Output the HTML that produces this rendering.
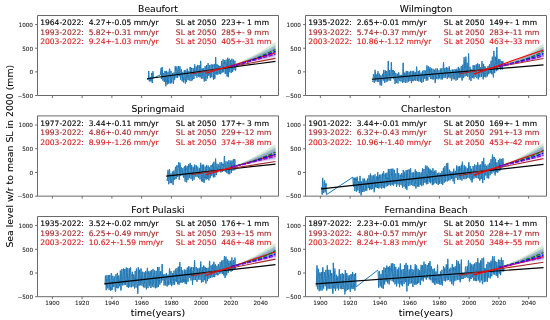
<!DOCTYPE html>
<html lang="en"><head><meta charset="utf-8"><title>Sea level trends and projections</title>
<style>html,body{margin:0;padding:0;background:#fff;overflow:hidden}body{width:550px;height:320px}svg{display:block}</style></head>
<body>
<svg width="550" height="320" viewBox="0 0 550 320" font-family="'DejaVu Sans','Liberation Sans',sans-serif">
<rect width="550" height="320" fill="#fff"/>
<g id="c00">
<clipPath id="kc00"><rect x="37.5" y="15.5" width="241" height="80"/></clipPath>
<g clip-path="url(#kc00)">
<path d="M147.64 79.08L147.76 80.04L147.88 79.83L148.01 79.58L148.13 79.6L148.26 79.15L148.38 77.87L148.5 74.41L148.63 72.27L148.75 70.94L148.88 72.27L149 74.41L149.12 80.36L149.25 81.26L149.37 81.5L149.5 81.23L149.62 80.21L149.74 79.83L149.87 77.82L149.99 77.87L150.12 77.93L150.24 77.19L150.36 77.26L150.49 78.47L150.61 79.73L150.74 81.28L150.86 79.15L150.98 80.08L151.11 80.44L151.23 78.59L151.36 75.7L151.48 75.27L151.6 72.93L151.73 73.82L151.85 73.77L151.98 76.32L152.1 82.2L152.22 81.1L152.35 82.95L152.47 80.07L152.6 79.43L152.72 72.33L152.84 71.63L152.97 71.19L153.09 71.63L153.22 72.33L153.36 78.09L160.36 74.91L161.12 67.82L161.25 68.53L161.37 79.09L161.5 77.39L161.62 76.54L161.74 74.5L161.87 72.72L161.99 69.73L162.12 68.12L162.24 67.12L162.36 68.12L162.49 69.73L162.61 78.26L162.74 80.28L162.86 80.63L162.98 79.69L163.11 76.58L163.23 74.05L163.36 73.52L163.48 73.02L163.6 73.82L163.73 74.09L163.85 78.28L163.98 78.02L164.1 79.81L164.22 81.93L164.35 78.24L164.47 80.46L164.6 78.33L164.72 75.77L164.84 71.26L164.97 72.16L165.09 71.19L165.22 73.05L165.34 76.16L165.46 80.07L165.59 84.14L165.71 85.45L165.84 86.26L165.96 85.45L166.08 84.14L166.21 74.17L166.33 72.51L166.46 70.84L166.58 73.25L166.7 72.81L166.83 76.18L166.95 81.86L167.07 80.43L167.2 80.7L167.32 84.39L167.45 81.29L167.57 76.52L167.69 76.56L167.82 74.23L167.94 72.02L168.07 71.73L168.19 74.11L168.31 76.07L168.44 79.51L168.56 83.51L168.69 82.31L168.81 80.27L168.93 79.2L169.06 76.79L169.18 75.28L169.31 70.05L169.43 69.19L169.55 68.65L169.68 69.19L169.8 70.05L169.93 79.38L170.05 83.7L170.17 83.52L170.3 81.8L170.42 82.5L170.55 78.78L170.67 75.81L170.79 74.22L170.92 70.93L171.04 71.05L171.17 73.23L171.29 76.62L171.41 79.66L171.54 81.4L171.66 83.21L171.79 81.12L171.91 79.31L172.03 77.09L172.16 76.58L172.28 74.76L172.41 74.45L172.53 73L172.65 75.25L172.78 78.36L172.9 78.32L173.03 78.61L173.15 82.13L173.27 83.11L173.4 83.72L173.52 83.11L173.65 82.13L173.77 74.33L173.89 72.63L174.02 72.37L174.14 72.98L174.27 75.33L174.39 76.4L174.51 79.29L174.64 80.1L174.76 78.59L174.89 78.41L175.01 67.92L175.13 66.8L175.26 66.1L175.38 66.8L175.51 67.92L175.63 71.77L175.75 74.61L175.88 76.58L176 77.1L176.12 77.86L176.25 75.68L176.37 75.15L176.5 75.04L176.62 71.7L176.74 67.89L176.87 66.48L176.99 67.34L177.12 68.98L177.24 69.74L177.36 73.95L177.49 75.88L177.61 77.9L177.74 76.57L177.86 72.17L177.98 74.17L178.11 69.83L178.23 69.19L178.36 66.4L178.48 66L178.6 69.16L178.73 70.81L178.85 73.59L178.98 76.07L179.1 75.61L179.22 76.3L179.35 75.85L179.47 73.73L179.6 71.2L179.72 67.58L179.84 67.65L179.97 66.23L180.09 67.77L180.22 72.81L180.34 75.36L180.46 74.98L180.59 79.72L180.71 77.91L180.84 75.22L180.96 75.36L181.08 72.7L181.21 70.85L181.33 69.18L181.46 70.33L181.58 71.8L181.7 74.04L181.83 77.22L181.95 78.26L182.08 81.04L182.2 81.37L182.32 80.38L182.45 78.18L182.57 75.05L182.7 71.88L182.82 71.75L182.94 72.78L183.07 74.73L183.19 76.51L183.32 78.89L183.44 81.08L183.56 82.43L183.69 81.65L183.81 78.48L183.94 79.33L184.06 74.23L184.18 73.71L184.31 70.08L184.43 71.45L184.55 75.01L184.68 75.66L184.8 76.12L184.93 79.62L185.05 79.17L185.17 82.74L185.3 83.34L185.42 83.72L185.55 83.34L185.67 82.74L185.79 70.31L185.92 71.12L186.04 73.43L186.17 74.28L186.29 78.82L186.41 79.44L186.54 81.81L186.66 80.11L186.79 79.98L186.91 74.28L187.03 72.45L187.16 68.58L187.28 69.79L187.41 69.8L187.53 70.27L187.65 77.48L187.78 78.5L187.9 78.29L188.03 79.95L188.15 78.79L188.27 78.32L188.4 74.4L188.52 73.49L188.65 72.43L188.77 71.94L188.89 70.86L189.02 72.18L189.14 74.26L189.27 80.27L189.39 80.57L189.51 79.77L189.64 78.28L189.76 77.58L189.89 75.35L190.01 74.35L190.13 67.18L190.26 69.91L190.38 67.15L190.51 69.1L190.63 73.26L190.75 77.6L190.88 79.53L191 81.14L191.13 80.03L191.25 78.14L191.37 74.34L191.5 70.88L191.62 67.76L191.75 69.15L191.87 68.03L191.99 71.91L192.12 74.69L192.24 77.46L192.37 80.28L192.49 79.24L192.61 78.78L192.74 76.42L192.86 74.88L192.98 71.63L193.11 70.25L193.23 69.75L193.36 68.37L193.48 70.25L193.6 74.29L193.73 74.77L193.85 79L193.98 78.05L194.1 78.09L194.22 76.42L194.35 74.74L194.47 65.58L194.6 64.73L194.72 64.19L194.84 64.73L194.97 65.58L195.09 72.47L195.22 75.56L195.34 75.44L195.46 75.34L195.59 75.87L195.71 75.37L195.84 72.88L195.96 69.62L196.08 69.31L196.21 66.49L196.33 66.76L196.46 69.17L196.58 71.42L196.7 73.81L196.83 77.4L196.95 77.78L197.08 76.12L197.2 74.63L197.32 70L197.45 69.69L197.57 68.06L197.7 64.91L197.82 64.95L197.94 68.35L198.07 71.95L198.19 72.72L198.32 75.99L198.44 75.25L198.56 76.66L198.69 73.45L198.81 73.36L198.94 69.19L199.06 65.45L199.18 66.26L199.31 65.62L199.43 68.8L199.56 71.71L199.68 75.33L199.8 75.05L199.93 77.46L200.05 75.26L200.18 76.55L200.3 72.62L200.42 63.64L200.55 61.91L200.67 60.83L200.8 61.91L200.92 63.64L201.04 73.64L201.17 72.84L201.29 76.62L201.41 78.31L201.54 77.29L201.66 78.64L201.79 75.28L201.91 69.96L202.03 68.89L202.16 68.31L202.28 69.96L202.41 69.43L202.53 70.08L202.65 76.29L202.78 76.94L202.9 78.46L203.03 77.02L203.15 75.62L203.27 73.11L203.4 71.56L203.52 68.62L203.65 68.46L203.77 68.18L203.89 69.5L204.02 80.37L204.14 81.15L204.27 81.63L204.39 81.15L204.51 80.37L204.64 76.42L204.76 71.69L204.89 69.48L205.01 67.41L205.13 66.11L205.26 68.61L205.38 68.07L205.51 69.68L205.63 74.83L205.75 80.94L205.88 80.31L206 80.81L206.13 77.38L206.25 72.71L206.37 71.38L206.5 65.41L206.62 66.37L206.75 65.58L206.87 67.58L206.99 69.21L207.12 71.87L207.24 77.38L207.37 76.06L207.49 78.54L207.61 74.64L207.74 70.79L207.86 66.85L207.99 63.37L208.11 64L208.23 63.71L208.36 66.47L208.48 68.6L208.61 71.03L208.73 75.52L208.85 71.13L208.98 75.46L209.1 74.21L209.23 70.53L209.35 68.04L209.47 66.57L209.6 67.24L209.72 65L209.85 68.16L209.97 68.41L210.09 71.72L210.22 77.66L210.34 78.04L210.46 78.08L210.59 74.46L210.71 71.58L210.84 68.43L210.96 67.57L211.08 65.06L211.21 64.35L211.33 69.56L211.46 70.89L211.58 73.25L211.7 76.04L211.83 77.25L211.95 74.37L212.08 73.13L212.2 70.88L212.32 70.43L212.45 64.61L212.57 66.15L212.7 67.77L212.82 69.04L212.94 71.63L213.07 71.02L213.19 76.03L213.32 77.38L213.44 79.71L213.56 74.02L213.69 73.57L213.81 70.16L213.94 64.97L214.06 65.69L214.18 63.98L214.31 65.85L214.43 72.98L214.56 74.57L214.68 78.9L214.8 78.78L214.93 76.84L215.05 77.25L215.18 69.61L215.3 69.63L215.42 61.31L215.55 58.66L215.67 57.01L215.8 58.66L215.92 61.31L216.04 73.87L216.17 72.7L216.29 74.54L216.42 74.57L216.54 71.31L216.66 71.41L216.79 68.31L216.91 64.45L217.04 65.78L217.16 64.63L217.28 67.01L217.41 69.65L217.53 71.67L217.66 73.39L217.78 74.75L217.9 74.69L218.03 72.98L218.15 71.22L218.28 67.83L218.4 66.22L218.52 65.3L218.65 67.88L218.77 66.59L218.89 69L219.02 72.87L219.14 73.65L219.27 74.02L219.39 73.89L219.51 71.91L219.64 69.01L219.76 66.77L219.89 65.98L220.01 67.19L220.13 66.21L220.26 66.47L220.38 69.37L220.51 70.78L220.63 72.66L220.75 74.26L220.88 71.69L221 72.63L221.13 67.6L221.25 66.06L221.37 63.94L221.5 61.14L221.62 62.62L221.75 62.54L221.87 67.43L221.99 68.99L222.12 72.27L222.24 72.6L222.37 72.19L222.49 71.02L222.61 66.08L222.74 65.01L222.86 62.16L222.99 59.35L223.11 59.27L223.23 61.44L223.36 64.69L223.48 65.5L223.61 71.71L223.73 72.21L223.85 72.35L223.98 68.21L224.1 65.92L224.23 62.09L224.35 60.06L224.47 60.49L224.6 61.65L224.72 63.68L224.85 62.12L224.97 67.5L225.09 71.19L225.22 74.09L225.34 73.4L225.47 71.11L225.59 67.17L225.71 66.8L225.84 60.76L225.96 60.08L226.09 59.64L226.21 61.84L226.33 63.95L226.46 68.38L226.58 69.68L226.71 74.24L226.83 74.96L226.95 75.93L227.08 76.54L227.2 75.93L227.32 74.96L227.45 59.42L227.57 57.82L227.7 63.31L227.82 67.7L227.94 70.58L228.07 75.11L228.19 76.38L228.32 77.17L228.44 76.38L228.56 75.11L228.69 59.26L228.81 59.95L228.94 58.55L229.06 58.5L229.18 61.88L229.31 65.94L229.43 68.74L229.56 70.57L229.68 72.23L229.8 71.24L229.93 70.83L230.05 67.6L230.18 61.14L230.3 62.06L230.42 60.22L230.55 60.32L230.67 61.1L230.8 67.01L230.92 69.29L231.04 72.02L231.17 73L231.29 72.92L231.42 69.85L231.54 69.87L231.66 62.63L231.79 59.74L231.91 58.71L232.04 61.17L232.16 60.76L232.28 65.89L232.41 69.55L232.53 71.78L232.66 72.05L232.78 71.07L232.9 68.31L233.03 68.49L233.15 63.77L233.28 59.93L233.4 59.67L233.52 59.9L233.65 63.89L233.77 64.16L233.9 69.63L234.02 70.14L234.14 69.99L234.27 69.01L234.39 68.53L234.52 65.54L234.64 64.81L234.76 63.09L234.89 60.7L235.01 62.15L235.14 63.57L235.26 66.83L235.38 67.25L235.51 68.32L235.63 70.57L235.76 69.99L235.88 66.5" fill="none" stroke="#1f77b4" stroke-width="1.0" stroke-linejoin="round"/>
<polygon points="230.9,66.56 232.38,66.11 233.87,65.67 235.36,65.23 236.85,64.8 238.33,64.38 239.82,63.97 241.31,63.55 242.8,63.15 244.28,62.74 245.77,62.35 247.26,61.95 248.75,61.56 250.23,61.17 251.72,60.78 253.21,60.39 254.7,60 256.19,59.62 257.67,59.23 259.16,58.84 260.65,58.45 262.14,58.06 263.62,57.66 265.11,57.27 266.6,56.86 268.09,56.46 269.57,56.05 271.06,55.63 272.55,55.21 274.04,54.78 275.52,54.35 275.52,41.98 274.04,42.99 272.55,43.98 271.06,44.96 269.57,45.92 268.09,46.86 266.6,47.79 265.11,48.7 263.62,49.59 262.14,50.47 260.65,51.34 259.16,52.19 257.67,53.03 256.19,53.85 254.7,54.67 253.21,55.46 251.72,56.25 250.23,57.03 248.75,57.79 247.26,58.54 245.77,59.28 244.28,60.01 242.8,60.73 241.31,61.45 239.82,62.15 238.33,62.84 236.85,63.52 235.36,64.2 233.87,64.87 232.38,65.53 230.9,66.19" fill="#2e8b2e" fill-opacity="0.2"/>
<polygon points="230.9,66.61 232.38,66.19 233.87,65.77 235.36,65.36 236.85,64.96 238.33,64.57 239.82,64.19 241.31,63.82 242.8,63.45 244.28,63.09 245.77,62.73 247.26,62.38 248.75,62.03 250.23,61.69 251.72,61.34 253.21,61.01 254.7,60.67 256.19,60.34 257.67,60 259.16,59.67 260.65,59.34 262.14,59.01 263.62,58.67 265.11,58.34 266.6,58 268.09,57.66 269.57,57.31 271.06,56.97 272.55,56.61 274.04,56.26 275.52,55.89 275.52,45.07 274.04,45.94 272.55,46.79 271.06,47.63 269.57,48.45 268.09,49.26 266.6,50.06 265.11,50.84 263.62,51.61 262.14,52.37 260.65,53.12 259.16,53.85 257.67,54.58 256.19,55.29 254.7,56 253.21,56.7 251.72,57.38 250.23,58.06 248.75,58.73 247.26,59.39 245.77,60.05 244.28,60.7 242.8,61.34 241.31,61.97 239.82,62.6 238.33,63.23 236.85,63.84 235.36,64.46 233.87,65.07 232.38,65.68 230.9,66.28" fill="#2a6fb8" fill-opacity="0.32"/>
<polygon points="230.9,66.66 232.38,66.26 233.87,65.87 235.36,65.49 236.85,65.12 238.33,64.77 239.82,64.42 241.31,64.08 242.8,63.75 244.28,63.43 245.77,63.11 247.26,62.8 248.75,62.5 250.23,62.2 251.72,61.91 253.21,61.62 254.7,61.34 256.19,61.06 257.67,60.78 259.16,60.5 260.65,60.23 262.14,59.95 263.62,59.68 265.11,59.41 266.6,59.13 268.09,58.86 269.57,58.58 271.06,58.3 272.55,58.02 274.04,57.73 275.52,57.44 275.52,47.23 274.04,48 272.55,48.75 271.06,49.49 269.57,50.22 268.09,50.94 266.6,51.64 265.11,52.34 263.62,53.02 262.14,53.7 260.65,54.36 259.16,55.02 257.67,55.66 256.19,56.3 254.7,56.93 253.21,57.56 251.72,58.18 250.23,58.79 248.75,59.39 247.26,59.99 245.77,60.58 244.28,61.17 242.8,61.76 241.31,62.34 239.82,62.92 238.33,63.5 236.85,64.07 235.36,64.64 233.87,65.21 232.38,65.78 230.9,66.35" fill="#8a2be2" fill-opacity="0.2"/>
<line x1="146.99" y1="78.76" x2="275.52" y2="61.32" stroke="#000" stroke-width="1.2"/>
<line x1="190.73" y1="74.07" x2="275.52" y2="58.38" stroke="#a52a2a" stroke-width="1.1"/>
<line x1="205.6" y1="73.24" x2="275.52" y2="52.71" stroke="#f00" stroke-width="1.2"/>
<polyline points="230.9,66.42 232.38,66.09 233.87,65.73 235.36,65.35 236.85,64.94 238.33,64.52 239.82,64.08 241.31,63.61 242.8,63.13 244.28,62.63 245.77,62.12 247.26,61.59 248.75,61.04 250.23,60.48 251.72,59.91 253.21,59.32 254.7,58.72 256.19,58.11 257.67,57.48 259.16,56.85 260.65,56.21 262.14,55.56 263.62,54.9 265.11,54.24 266.6,53.56 268.09,52.89 269.57,52.21 271.06,51.52 272.55,50.83 274.04,50.14 275.52,49.45" fill="none" stroke="#008000" stroke-width="1.2" stroke-dasharray="4.1 1.5"/>
<polyline points="230.9,66.42 232.38,66.07 233.87,65.7 235.36,65.32 236.85,64.93 238.33,64.52 239.82,64.1 241.31,63.67 242.8,63.23 244.28,62.77 245.77,62.31 247.26,61.83 248.75,61.35 250.23,60.85 251.72,60.35 253.21,59.83 254.7,59.31 256.19,58.78 257.67,58.24 259.16,57.7 260.65,57.15 262.14,56.59 263.62,56.03 265.11,55.46 266.6,54.89 268.09,54.31 269.57,53.73 271.06,53.15 272.55,52.56 274.04,51.97 275.52,51.38" fill="none" stroke="#0000ff" stroke-width="1.2" stroke-dasharray="4.1 1.5"/>
<polyline points="230.9,66.42 232.38,66.05 233.87,65.67 235.36,65.29 236.85,64.91 238.33,64.53 239.82,64.14 241.31,63.75 242.8,63.36 244.28,62.96 245.77,62.57 247.26,62.17 248.75,61.77 250.23,61.36 251.72,60.95 253.21,60.54 254.7,60.13 256.19,59.71 257.67,59.29 259.16,58.87 260.65,58.45 262.14,58.02 263.62,57.59 265.11,57.16 266.6,56.72 268.09,56.28 269.57,55.84 271.06,55.39 272.55,54.94 274.04,54.49 275.52,54.04" fill="none" stroke="#9400d3" stroke-width="1.2" stroke-dasharray="4.1 1.5"/>
</g>
<text x="33" y="97.8" font-size="5.7" text-anchor="end" fill="#1a1a1a" stroke="#1a1a1a" stroke-width="0.08">−500</text>
<text x="33" y="74.16" font-size="5.7" text-anchor="end" fill="#1a1a1a" stroke="#1a1a1a" stroke-width="0.08">0</text>
<text x="33" y="50.52" font-size="5.7" text-anchor="end" fill="#1a1a1a" stroke="#1a1a1a" stroke-width="0.08">500</text>
<text x="33" y="26.88" font-size="5.7" text-anchor="end" fill="#1a1a1a" stroke="#1a1a1a" stroke-width="0.08">1000</text>
<path d="M37.5 15.5H278.5V95.5H37.5ZM35.1 95.5H37.5M35.1 71.86H37.5M35.1 48.22H37.5M35.1 24.58H37.5M52.38 95.5V97.9M82.13 95.5V97.9M111.88 95.5V97.9M141.64 95.5V97.9M171.39 95.5V97.9M201.14 95.5V97.9M230.9 95.5V97.9M260.65 95.5V97.9" stroke="#6a6a6a" stroke-width="1" fill="none"/>
<text x="158" y="11.9" font-size="9.25" text-anchor="middle" fill="#000" stroke="#000" stroke-width="0.06">Beaufort</text>
<text x="40.2" y="25.1" font-size="7.56" fill="#000" stroke="#000" stroke-width="0.14" xml:space="preserve" style="white-space:pre">1964-2022:  4.27+-0.05 mm/yr</text>
<text x="175.87" y="25.1" font-size="7.56" fill="#000" stroke="#000" stroke-width="0.14" xml:space="preserve" style="white-space:pre">SL at 2050  223+- 1 mm</text>
<text x="40.2" y="34.7" font-size="7.56" fill="#a52a2a" stroke="#a52a2a" stroke-width="0.14" xml:space="preserve" style="white-space:pre">1993-2022:  5.82+-0.31 mm/yr</text>
<text x="175.87" y="34.7" font-size="7.56" fill="#a52a2a" stroke="#a52a2a" stroke-width="0.14" xml:space="preserve" style="white-space:pre">SL at 2050  285+- 9 mm</text>
<text x="40.2" y="44.3" font-size="7.56" fill="#dc2024" stroke="#dc2024" stroke-width="0.14" xml:space="preserve" style="white-space:pre">2003-2022:  9.24+-1.03 mm/yr</text>
<text x="175.87" y="44.3" font-size="7.56" fill="#dc2024" stroke="#dc2024" stroke-width="0.14" xml:space="preserve" style="white-space:pre">SL at 2050  405+-31 mm</text>
</g>
<g id="c01">
<clipPath id="kc01"><rect x="305.5" y="15.5" width="241" height="80"/></clipPath>
<g clip-path="url(#kc01)">
<path d="M372.64 81.21L372.76 81.84L372.88 81.2L373.01 80.32L373.13 78.47L373.26 76.25L373.38 74.76L373.5 74.06L373.63 74.37L373.75 74.6L373.88 77.32L374 80.77L374.12 81.55L374.25 82.85L374.37 80.45L374.5 79.26L374.62 78.45L374.74 74.58L374.87 71.65L374.99 70.53L375.12 69.83L375.24 70.53L375.36 71.65L375.49 80.24L375.61 81.34L375.74 80.56L375.86 80.3L375.98 77.17L376.11 78.16L376.23 75.2L376.36 75.02L376.48 74.59L376.6 76.56L376.73 78.75L376.85 79.7L376.98 80.24L377.1 80.85L377.22 82.03L377.35 81.45L377.47 81.16L377.6 77.22L377.72 72.75L377.84 71.74L377.97 71.1L378.09 71.74L378.22 72.75L378.34 78.57L378.46 80.57L378.59 81.31L378.71 81.7L378.84 82L378.96 81.55L379.08 79.97L379.21 78.85L379.33 75.7L379.45 73.72L379.58 78.11L379.7 77.76L379.83 79.36L379.95 83.69L380.07 84.36L380.2 85.27L380.32 82.67L380.45 82.18L380.57 78.83L380.69 75.93L380.82 75.35L380.94 76.12L381.07 75.83L381.19 76.48L381.31 84.09L381.44 84.98L381.56 85.54L381.69 84.98L381.81 84.09L381.93 80.51L382.06 76.61L382.18 76.34L382.31 75.6L382.43 75.6L382.55 73.81L382.68 76.33L382.8 77.47L382.93 79.22L383.05 79.16L383.17 79.72L383.3 80.61L383.42 78.69L383.55 71.06L383.67 70.3L383.79 69.83L383.92 70.3L384.04 71.06L384.17 74.96L384.29 77.09L384.41 81.3L384.54 81.96L384.66 82.99L384.79 81.46L384.91 79.81L385.03 76.01L385.16 72.1L385.28 72.7L385.41 70.34L385.53 73.75L385.65 76.15L385.78 76.88L385.9 79.35L386.03 80.66L386.15 82.12L386.27 80.56L386.4 78.13L386.52 74.21L386.65 73.27L386.77 71.05L386.89 72.1L387.02 72.07L387.14 74.09L387.27 75.29L387.39 79.74L387.51 81.35L387.64 80.53L387.76 78.3L387.88 77.43L388.01 66.49L388.13 63.06L388.26 60.92L388.38 63.06L388.5 66.49L388.63 72.43L388.75 76.62L388.88 78.21L389 80.05L389.12 80.72L389.25 77.46L389.37 76.22L389.5 76.02L389.62 70.49L389.74 70.31L389.87 71.03L389.99 70.54L390.12 72.97L390.24 76.15L390.36 79.92L390.49 79.68L390.61 79.88L390.74 80.7L390.86 76.6L390.98 73.89L391.11 66.74L391.23 63.94L391.36 62.19L391.48 63.94L391.6 66.74L391.73 73.8L391.85 78.16L391.98 77.82L392.1 78.16L392.22 78.23L392.35 76.44L392.47 75.3L392.6 72.8L392.72 70.67L392.84 70.01L392.97 71.72L393.09 69.99L393.22 75.38L393.34 76.62L393.46 78.39L393.59 79.2L393.71 77.24L393.84 77.82L393.96 74.3L394.08 72.62L394.21 73.64L394.33 71.14L394.46 73.91L394.58 72.09L394.7 77.96L394.83 81.67L394.95 83.79L395.08 83.84L395.2 82.96L395.32 81.26L395.45 78.87L395.57 76.45L395.7 74.74L395.82 72.88L395.94 76.83L396.07 77.39L396.19 79.94L396.32 81.97L396.44 82.84L396.56 82.76L396.69 80.48L396.81 79.9L396.93 78.28L397.06 75.02L397.18 73.85L397.31 73.85L397.43 73.82L397.55 76.63L397.68 77.12L397.8 80.06L397.93 82.8L398.05 83.45L398.17 80.23L398.3 79.54L398.42 73.98L398.55 75.23L398.67 72.23L398.79 73.08L398.92 73.33L399.04 74.67L399.17 78.43L399.29 79.55L399.41 80.52L399.54 80.87L399.66 79.82L399.79 78.05L399.91 76.44L400.03 75.4L400.16 74.88L400.28 75.23L400.41 75.47L400.53 76.49L400.65 77.1L400.78 79.69L400.9 81.53L401.03 80.45L401.15 80.97L401.27 79.55L401.4 77.33L401.52 75.39L401.65 76.74L401.77 75.38L401.89 74.76L402.02 76.37L402.14 78.45L402.27 80.71L402.39 80.74L402.51 82.79L402.64 81.07L402.76 78.93L402.89 68.45L403.01 64.99L403.13 62.83L403.26 64.99L403.38 68.45L403.51 73.88L403.63 78.08L403.75 80.26L403.88 82.39L404 79.7L404.13 80.07L404.25 79.22L404.37 77.5L404.5 76.36L404.62 72.94L404.75 72.58L404.87 75.23L404.99 74.08L405.12 76.69L405.24 81.2L405.36 82.51L405.49 82.86L405.61 81.34L405.74 79.67L405.86 78.7L405.98 72.95L406.11 72.41L406.23 70.91L406.36 71.63L406.48 75.24L406.6 77.28L406.73 79.28L406.85 80.97L406.98 82.57L407.1 82.22L407.22 79.38L407.35 77.61L407.47 74.46L407.6 74.23L407.72 71.08L407.84 73.43L407.97 75.09L408.09 77.29L408.22 79.03L408.34 78.7L408.46 80.91L408.59 81.78L408.71 78.25L408.84 76.66L408.96 72.97L409.08 72.32L409.21 71.87L409.33 72.56L409.46 74.62L409.58 78.17L409.7 79.48L409.83 80.54L409.95 79.93L410.08 80.73L410.2 79.07L410.32 75.77L410.45 73.5L410.57 70.89L410.7 71.43L410.82 73L410.94 73.64L411.07 76.13L411.19 80.23L411.32 80.91L411.44 83.17L411.56 80.96L411.69 79.75L411.81 76.69L411.94 73.99L412.06 71.6L412.18 70.93L412.31 71.28L412.43 73.81L412.56 77.4L412.68 80.88L412.8 80.12L412.93 80.39L413.05 81.24L413.18 78.08L413.3 77.38L413.42 74.88L413.55 71.96L413.67 70.78L413.79 73.12L413.92 74.86L414.04 75.13L414.17 80.41L414.29 79.61L414.41 80.1L414.54 79.88L414.66 77.79L414.79 73.51L414.91 74.61L415.03 72.47L415.16 71.98L415.28 73.08L415.41 75.32L415.53 74.97L415.65 77.91L415.78 80.88L415.9 80.32L416.03 78.7L416.15 77.22L416.27 76.85L416.4 69.38L416.52 67.7L416.65 66.65L416.77 67.7L416.89 69.38L417.02 74.82L417.14 78.95L417.27 79.32L417.39 78.91L417.51 80.77L417.64 79.72L417.76 75.27L417.89 74.09L418.01 72.83L418.13 72.91L418.26 71.14L418.38 74.87L418.51 78.16L418.63 79.23L418.75 81.37L418.88 80.54L419 80.39L419.13 79.32L419.25 75.37L419.37 73.79L419.5 70.54L419.62 70.5L419.75 71.94L419.87 74.58L419.99 76.65L420.12 78.62L420.24 81.33L420.37 81.73L420.49 81.03L420.61 78.66L420.74 75.78L420.86 75.12L420.99 73.52L421.11 72.63L421.23 74.11L421.36 75L421.48 76.86L421.61 80.11L421.73 82.47L421.85 82.85L421.98 79.53L422.1 78.23L422.22 77.46L422.35 74.58L422.47 70.82L422.6 70.78L422.72 72.14L422.84 73.1L422.97 78.23L423.09 78.66L423.22 79.26L423.34 81.86L423.46 80.26L423.59 77.08L423.71 74.55L423.84 73.81L423.96 71.27L424.08 70.11L424.21 72.15L424.33 74.91L424.46 76.02L424.58 77.91L424.7 77.33L424.83 78.74L424.95 79.05L425.08 74.43L425.2 75.48L425.32 72.67L425.45 71.17L425.57 70.62L425.7 71.79L425.82 72.73L425.94 75.21L426.07 79.58L426.19 80.27L426.32 80.76L426.44 79.67L426.56 76.94L426.69 67.08L426.81 66.03L426.94 65.37L427.06 66.03L427.18 67.08L427.31 72.82L427.43 77.34L427.56 77.11L427.68 80.41L427.8 80.45L427.93 79.93L428.05 75.27L428.18 71.59L428.3 69.32L428.42 66.4L428.55 66.57L428.67 67.33L428.8 71.06L428.92 73.64L429.04 76.8L429.17 77.1L429.29 76.98L429.42 76.8L429.54 73.75L429.66 69.23L429.79 71.99L429.91 67.19L430.04 67.34L430.16 68.33L430.28 72.13L430.41 73.73L430.53 76.64L430.66 78.91L430.78 78.99L430.9 78.61L431.03 78.95L431.15 71.74L431.27 71.31L431.4 70.59L431.52 68.38L431.65 70.68L431.77 74.62L431.89 73.03L432.02 79.28L432.14 79.33L432.27 79.35L432.39 76.88L432.51 74.95L432.64 73.51L432.76 72.3L432.89 70.53L433.01 68.78L433.13 69.05L433.26 71.94L433.38 75.21L433.51 75.99L433.63 78.98L433.75 79.47L433.88 78.49L434 75.69L434.13 73.58L434.25 71.18L434.37 69.69L434.5 70.1L434.62 73.5L434.75 74.21L434.87 74.23L434.99 81.01L435.12 82.29L435.24 83.08L435.37 82.29L435.49 81.01L435.61 72.44L435.74 71.03L435.86 68.43L435.99 69.52L436.11 70.3L436.23 70.3L436.36 75.84L436.48 76.35L436.61 78.57L436.73 78.99L436.85 77.77L436.98 75.73L437.1 75.57L437.23 72.4L437.35 70.57L437.47 68.54L437.6 71.27L437.72 72.33L437.85 74.1L437.97 75.29L438.09 79.33L438.22 79.29L438.34 77.52L438.47 78.09L438.59 72.61L438.71 71.66L438.84 71.66L438.96 70.2L439.09 71.58L439.21 71.97L439.33 73.98L439.46 74.91L439.58 78.01L439.7 78.4L439.83 78.43L439.95 76.27L440.08 72.98L440.2 73.18L440.32 68.5L440.45 68.99L440.57 69.29L440.7 71.33L440.82 73.72L440.94 77.03L441.07 79.53L441.19 79.27L441.32 78.62L441.44 76.62L441.56 73.25L441.69 69.81L441.81 68.74L441.94 68.09L442.06 70.62L442.18 71.37L442.31 76.15L442.43 75.71L442.56 79.35L442.68 77.21L442.8 74.28L442.93 75.97L443.05 71.29L443.18 69.87L443.3 65L443.42 63.33L443.55 62.28L443.67 63.33L443.8 65L443.92 77L444.04 77.97L444.17 77.45L444.29 74.86L444.42 74.17L444.54 71.75L444.66 68.74L444.79 68.89L444.91 68.3L445.04 69.03L445.16 72.34L445.28 71.89L445.41 74L445.53 74.83L445.66 77.74L445.78 76.67L445.9 73.11L446.03 71.65L446.15 67.95L446.28 68.8L446.4 67.13L446.52 69.1L446.65 70.09L446.77 73.69L446.9 74.87L447.02 75.88L447.14 76.87L447.27 78.92L447.39 73.8L447.52 71.92L447.64 71.05L447.76 69.12L447.89 67.63L448.01 67.85L448.13 70.89L448.26 74.56L448.38 74.83L448.51 76.46L448.63 74.42L448.75 77.41L448.88 71.55L449 69.93L449.13 68.98L449.25 66.26L449.37 67.32L449.5 67.41L449.62 71.26L449.75 73.09L449.87 76.2L449.99 78.25L450.12 77.43L450.24 77.32L450.37 74.63L450.49 72.06L450.61 71.94L450.74 70.61L450.86 70.26L450.99 73.01L451.11 72.44L451.23 74.65L451.36 76.83L451.48 79.41L451.61 80.74L451.73 78.26L451.85 76.04L451.98 72.84L452.1 71.06L452.23 69.34L452.35 70.14L452.47 70.07L452.6 73.21L452.72 74.51L452.85 76.08L452.97 75.49L453.09 78.38L453.22 79.25L453.34 74.88L453.47 75.12L453.59 72.19L453.71 70.94L453.84 71.12L453.96 69.49L454.09 71.88L454.21 75.18L454.33 77.09L454.46 79.28L454.58 78.62L454.71 78.66L454.83 76.96L454.95 74.26L455.08 71.71L455.2 69.3L455.33 70.08L455.45 70.04L455.57 71.43L455.7 72L455.82 76.17L455.95 80.65L456.07 80.1L456.19 79.11L456.32 76.2L456.44 72.03L456.57 70.52L456.69 72.36L456.81 68.77L456.94 69.79L457.06 71.32L457.18 72.69L457.31 77.53L457.43 76.5L457.56 79.76L457.68 76.95L457.8 74.67L457.93 70.22L458.05 70.65L458.18 69.82L458.3 66.88L458.42 69.19L458.55 69.02L458.67 73.99L458.8 76.74L458.92 76.34L459.04 78.1L459.17 76.36L459.29 76.98L459.42 71.27L459.54 71.47L459.66 68.51L459.79 70.07L459.91 71.5L460.04 71.81L460.16 73.63L460.28 74.43L460.41 77.31L460.53 77.28L460.66 76.37L460.78 71.65L460.9 73.13L461.03 67.77L461.15 67.09L461.28 66.01L461.4 67.76L461.52 68.22L461.65 73.81L461.77 79.07L461.9 79.97L462.02 80.54L462.14 79.97L462.27 79.07L462.39 71.89L462.52 66.83L462.64 66.14L462.76 64.68L462.89 65.67L463.01 66.04L463.14 71.6L463.26 76.02L463.38 78.05L463.51 76.39L463.63 78.01L463.76 74.37L463.88 60.94L464 58.63L464.13 57.19L464.25 58.63L464.38 60.94L464.5 69.12L464.62 69.56L464.75 72.41L464.87 72.31L465 76.47L465.12 74.88L465.24 71.8L465.37 68.84L465.49 65.59L465.61 58.88L465.74 57.45L465.86 56.55L465.99 57.45L466.11 58.88L466.23 73.93L466.36 75.8L466.48 75.1L466.61 73.44L466.73 73.38L466.85 67.8L466.98 63.75L467.1 62.75L467.23 64.54L467.35 66.67L467.47 65.43L467.6 69.02L467.72 72.82L467.85 76.79L467.97 73.97L468.09 73.44L468.22 73.07L468.34 59.27L468.47 55.64L468.59 53.37L468.71 55.64L468.84 59.27L468.96 66.72L469.09 71.58L469.21 73.81L469.33 79.58L469.46 79.18L469.58 77.54L469.71 75.11L469.83 72.1L469.95 67.19L470.08 66.76L470.2 67.34L470.33 68.4L470.45 70.21L470.57 70.22L470.7 76.7L470.82 79.58L470.95 81.01L471.07 80.48L471.19 78.81L471.32 72.91L471.44 70.63L471.57 70.12L471.69 70.11L471.81 69.4L471.94 71.61L472.06 75.35L472.19 75.53L472.31 77.4L472.43 78.05L472.56 75.98L472.68 75.7L472.81 70.19L472.93 70.17L473.05 65.91L473.18 65.03L473.3 67.23L473.43 68.92L473.55 74.19L473.67 77.21L473.8 77.35L473.92 78.53L474.04 75.84L474.17 74.4L474.29 70.78L474.42 67.94L474.54 65.9L474.66 65.45L474.79 67.19L474.91 69.88L475.04 69.98L475.16 77.02L475.28 76.68L475.41 75.63L475.53 75.45L475.66 72.23L475.78 70.55L475.9 69.28L476.03 65.65L476.15 66.25L476.28 64.4L476.4 66.57L476.52 72.37L476.65 73.57L476.77 76.45L476.9 78.21L477.02 76L477.14 75.42L477.27 71.34L477.39 66.76L477.52 63.58L477.64 63.37L477.76 65.51L477.89 67.7L478.01 71.16L478.14 73.96L478.26 79.41L478.38 78.52L478.51 75.33L478.63 75.66L478.76 70.48L478.88 65.83L479 67.1L479.13 63.96L479.25 64.72L479.38 67.91L479.5 73.28L479.62 74.19L479.75 77.25L479.87 75.88L480 74.92L480.12 73.63L480.24 69.83L480.37 68.82L480.49 67.43L480.62 68.07L480.74 67.25L480.86 67.72L480.99 70.93L481.11 73.83L481.24 76.54L481.36 77.03L481.48 74.56L481.61 75.09L481.73 62.54L481.86 61.65L481.98 61.1L482.1 61.65L482.23 62.54L482.35 66.64L482.47 70.8L482.6 73.08L482.72 74.42L482.85 76.55L482.97 78.2L483.09 78.91L483.22 79.36L483.34 78.91L483.47 78.2L483.59 63.86L483.71 65.1L483.84 68.35L483.96 70.07L484.09 76.35L484.21 76.3L484.33 76.81L484.46 74.44L484.58 72.61L484.71 69.8L484.83 68.64L484.95 66.14L485.08 68.11L485.2 67.72L485.33 71.98L485.45 69.96L485.57 72.4L485.7 76.31L485.82 76.94L485.95 77.4L486.07 75.05L486.19 71.25L486.32 69.57L486.44 69.56L486.57 68.38L486.69 69.3L486.81 69.87L486.94 71.6L487.06 74.63L487.19 75.75L487.31 76.16L487.43 76.38L487.56 73.19L487.68 70.98L487.81 68.05L487.93 68.67L488.05 65.93L488.18 67.74L488.3 68.55L488.43 69.84L488.55 73.41L488.67 74.19L488.8 72.4L488.92 73.57L489.05 72.16L489.17 68.88L489.29 67.34L489.42 64.57L489.54 64.31L489.67 65.2L489.79 65.82L489.91 66.8L490.04 71.98L490.16 71.8L490.29 72.75L490.41 73.12L490.53 70.32L490.66 69.1L490.78 65.46L490.91 61.96L491.03 61.67L491.15 60.79L491.28 66.85L491.4 68.65L491.52 72.08L491.65 73.43L491.77 72.09L491.9 74.32L492.02 68.81L492.14 57.66L492.27 57.04L492.39 56.65L492.52 57.04L492.64 57.66L492.76 62.96L492.89 67.23L493.01 70.26L493.14 75.56L493.26 76.72L493.38 77.45L493.51 76.72L493.63 75.56L493.76 52.35L493.88 50.92L494 52.35L494.13 54.64L494.25 61.2L494.38 68.39L494.5 70.76L494.62 72.27L494.75 73L494.87 71.49L495 67.8L495.12 65.63L495.24 61.78L495.37 56.69L495.49 60.09L495.62 59.95L495.74 61.75L495.86 65.96L495.99 65.86L496.11 68.86L496.24 68.33L496.36 71.18L496.48 64.84L496.61 53.73L496.73 49.65L496.86 47.1L496.98 49.65L497.1 53.73L497.23 59.45L497.35 64.32L497.48 67.92L497.6 68.43L497.72 70.27L497.85 68.94L497.97 67.05L498.1 64.59L498.22 60.18L498.34 58.92L498.47 60.34L498.59 59.03L498.72 64L498.84 65.42L498.96 66.76L499.09 66.69L499.21 67.6L499.34 67.24L499.46 64.76L499.58 63.19L499.71 59.34L499.83 59.56L499.95 59.96L500.08 59.67L500.2 60.94L500.33 64.69L500.45 66.97L500.57 69L500.7 69.64L500.82 68.37L500.95 67.77L501.07 63.6L501.19 63.36L501.32 61.22L501.44 62.07L501.57 61.37L501.69 64.71L501.81 64.48L501.94 68.56L502.06 68.59L502.19 69.4L502.31 69.49L502.43 66.22L502.56 65.66L502.68 61.52L502.81 62.02L502.93 61.33L503.05 63.37L503.18 63.16L503.3 65.55" fill="none" stroke="#1f77b4" stroke-width="1.0" stroke-linejoin="round"/>
<polygon points="498.9,66.33 500.38,65.99 501.87,65.65 503.36,65.32 504.85,64.98 506.33,64.65 507.82,64.32 509.31,63.99 510.8,63.65 512.28,63.32 513.77,62.98 515.26,62.64 516.75,62.3 518.23,61.96 519.72,61.61 521.21,61.26 522.7,60.91 524.19,60.55 525.67,60.19 527.16,59.82 528.65,59.44 530.14,59.06 531.62,58.68 533.11,58.28 534.6,57.88 536.09,57.47 537.57,57.06 539.06,56.63 540.55,56.2 542.04,55.75 543.52,55.3 543.52,43.54 542.04,44.59 540.55,45.61 539.06,46.62 537.57,47.61 536.09,48.57 534.6,49.52 533.11,50.44 531.62,51.34 530.14,52.23 528.65,53.09 527.16,53.93 525.67,54.75 524.19,55.55 522.7,56.33 521.21,57.08 519.72,57.82 518.23,58.54 516.75,59.23 515.26,59.91 513.77,60.56 512.28,61.19 510.8,61.8 509.31,62.39 507.82,62.96 506.33,63.51 504.85,64.04 503.36,64.55 501.87,65.04 500.38,65.5 498.9,65.95" fill="#2e8b2e" fill-opacity="0.2"/>
<polygon points="498.9,66.37 500.38,66.05 501.87,65.73 503.36,65.41 504.85,65.1 506.33,64.79 507.82,64.49 509.31,64.18 510.8,63.88 512.28,63.58 513.77,63.28 515.26,62.98 516.75,62.68 518.23,62.39 519.72,62.09 521.21,61.78 522.7,61.48 524.19,61.17 525.67,60.87 527.16,60.55 528.65,60.24 530.14,59.92 531.62,59.59 533.11,59.26 534.6,58.93 536.09,58.59 537.57,58.24 539.06,57.88 540.55,57.52 542.04,57.15 543.52,56.77 543.52,46.48 542.04,47.38 540.55,48.26 539.06,49.12 537.57,49.97 536.09,50.8 534.6,51.61 533.11,52.4 531.62,53.18 530.14,53.94 528.65,54.68 527.16,55.4 525.67,56.11 524.19,56.8 522.7,57.47 521.21,58.13 519.72,58.77 518.23,59.39 516.75,60 515.26,60.59 513.77,61.16 512.28,61.72 510.8,62.27 509.31,62.79 507.82,63.3 506.33,63.8 504.85,64.28 503.36,64.74 501.87,65.19 500.38,65.63 498.9,66.04" fill="#2a6fb8" fill-opacity="0.32"/>
<polygon points="498.9,66.42 500.38,66.11 501.87,65.81 503.36,65.51 504.85,65.22 506.33,64.94 507.82,64.66 509.31,64.38 510.8,64.11 512.28,63.85 513.77,63.59 515.26,63.33 516.75,63.07 518.23,62.81 519.72,62.56 521.21,62.31 522.7,62.05 524.19,61.8 525.67,61.54 527.16,61.29 528.65,61.03 530.14,60.77 531.62,60.51 533.11,60.24 534.6,59.97 536.09,59.7 537.57,59.42 539.06,59.13 540.55,58.84 542.04,58.55 543.52,58.24 543.52,48.54 542.04,49.33 540.55,50.11 539.06,50.88 537.57,51.62 536.09,52.36 534.6,53.07 533.11,53.77 531.62,54.46 530.14,55.13 528.65,55.79 527.16,56.43 525.67,57.06 524.19,57.67 522.7,58.27 521.21,58.86 519.72,59.43 518.23,59.99 516.75,60.54 515.26,61.07 513.77,61.59 512.28,62.09 510.8,62.59 509.31,63.07 507.82,63.54 506.33,64 504.85,64.44 503.36,64.88 501.87,65.3 500.38,65.71 498.9,66.11" fill="#8a2be2" fill-opacity="0.2"/>
<line x1="371.85" y1="79.27" x2="543.52" y2="64.81" stroke="#000" stroke-width="1.2"/>
<line x1="458.73" y1="73.95" x2="543.52" y2="58.48" stroke="#a52a2a" stroke-width="1.1"/>
<line x1="473.6" y1="74.1" x2="543.52" y2="49.97" stroke="#f00" stroke-width="1.2"/>
<polyline points="498.9,66.19 500.38,65.86 501.87,65.52 503.36,65.18 504.85,64.84 506.33,64.5 507.82,64.14 509.31,63.78 510.8,63.41 512.28,63.03 513.77,62.64 515.26,62.24 516.75,61.82 518.23,61.4 519.72,60.96 521.21,60.5 522.7,60.03 524.19,59.54 525.67,59.03 527.16,58.5 528.65,57.96 530.14,57.39 531.62,56.8 533.11,56.19 534.6,55.56 536.09,54.9 537.57,54.21 539.06,53.5 540.55,52.76 542.04,51.99 543.52,51.2" fill="none" stroke="#008000" stroke-width="1.2" stroke-dasharray="4.1 1.5"/>
<polyline points="498.9,66.19 500.38,65.86 501.87,65.54 503.36,65.21 504.85,64.89 506.33,64.56 507.82,64.23 509.31,63.9 510.8,63.57 512.28,63.22 513.77,62.88 515.26,62.52 516.75,62.16 518.23,61.79 519.72,61.41 521.21,61.03 522.7,60.63 524.19,60.22 525.67,59.8 527.16,59.36 528.65,58.91 530.14,58.45 531.62,57.97 533.11,57.47 534.6,56.96 536.09,56.43 537.57,55.88 539.06,55.31 540.55,54.72 542.04,54.11 543.52,53.48" fill="none" stroke="#0000ff" stroke-width="1.2" stroke-dasharray="4.1 1.5"/>
<polyline points="498.9,66.19 500.38,65.87 501.87,65.55 503.36,65.24 504.85,64.94 506.33,64.63 507.82,64.33 509.31,64.02 510.8,63.72 512.28,63.42 513.77,63.11 515.26,62.8 516.75,62.49 518.23,62.18 519.72,61.86 521.21,61.54 522.7,61.22 524.19,60.88 525.67,60.54 527.16,60.2 528.65,59.84 530.14,59.48 531.62,59.11 533.11,58.73 534.6,58.33 536.09,57.93 537.57,57.52 539.06,57.09 540.55,56.65 542.04,56.19 543.52,55.72" fill="none" stroke="#9400d3" stroke-width="1.2" stroke-dasharray="4.1 1.5"/>
</g>
<text x="301" y="97.8" font-size="5.7" text-anchor="end" fill="#1a1a1a" stroke="#1a1a1a" stroke-width="0.08">−500</text>
<text x="301" y="74.16" font-size="5.7" text-anchor="end" fill="#1a1a1a" stroke="#1a1a1a" stroke-width="0.08">0</text>
<text x="301" y="50.52" font-size="5.7" text-anchor="end" fill="#1a1a1a" stroke="#1a1a1a" stroke-width="0.08">500</text>
<text x="301" y="26.88" font-size="5.7" text-anchor="end" fill="#1a1a1a" stroke="#1a1a1a" stroke-width="0.08">1000</text>
<path d="M305.5 15.5H546.5V95.5H305.5ZM303.1 95.5H305.5M303.1 71.86H305.5M303.1 48.22H305.5M303.1 24.58H305.5M320.38 95.5V97.9M350.13 95.5V97.9M379.88 95.5V97.9M409.64 95.5V97.9M439.39 95.5V97.9M469.14 95.5V97.9M498.9 95.5V97.9M528.65 95.5V97.9" stroke="#6a6a6a" stroke-width="1" fill="none"/>
<text x="426" y="11.9" font-size="9.25" text-anchor="middle" fill="#000" stroke="#000" stroke-width="0.06">Wilmington</text>
<text x="308.2" y="25.1" font-size="7.56" fill="#000" stroke="#000" stroke-width="0.14" xml:space="preserve" style="white-space:pre">1935-2022:  2.65+-0.01 mm/yr</text>
<text x="443.87" y="25.1" font-size="7.56" fill="#000" stroke="#000" stroke-width="0.14" xml:space="preserve" style="white-space:pre">SL at 2050  149+- 1 mm</text>
<text x="308.2" y="34.7" font-size="7.56" fill="#a52a2a" stroke="#a52a2a" stroke-width="0.14" xml:space="preserve" style="white-space:pre">1993-2022:  5.74+-0.37 mm/yr</text>
<text x="443.87" y="34.7" font-size="7.56" fill="#a52a2a" stroke="#a52a2a" stroke-width="0.14" xml:space="preserve" style="white-space:pre">SL at 2050  283+-11 mm</text>
<text x="308.2" y="44.3" font-size="7.56" fill="#dc2024" stroke="#dc2024" stroke-width="0.14" xml:space="preserve" style="white-space:pre">2003-2022:  10.86+-1.12 mm/yr</text>
<text x="443.87" y="44.3" font-size="7.56" fill="#dc2024" stroke="#dc2024" stroke-width="0.14" xml:space="preserve" style="white-space:pre">SL at 2050  463+-33 mm</text>
</g>
<g id="c10">
<clipPath id="kc10"><rect x="37.5" y="115.9" width="241" height="80.25"/></clipPath>
<g clip-path="url(#kc10)">
<path d="M167 179.09L167.12 180.65L167.25 180.87L167.37 180.74L167.5 179.79L167.62 176.97L167.74 171.66L167.87 170.53L167.99 169.83L168.12 170.53L168.24 171.66L168.36 179.54L168.49 181.09L168.61 181.61L168.74 184.26L168.86 183.02L168.98 180.73L169.11 176.33L169.23 170.87L169.36 169.84L169.48 169.19L169.6 169.84L169.73 170.87L169.85 178.02L169.98 180.69L170.1 181.06L170.22 183.1L170.35 181.43L170.47 177.59L170.6 178.51L170.72 174.06L170.84 174.82L170.97 173.51L171.09 175.12L171.22 178.71L171.34 178.76L171.46 180.65L171.59 183.22L171.71 183.1L171.84 181.27L171.96 180.02L172.08 178.26L172.21 174.82L172.33 171.66L172.45 172.41L172.58 171.89L172.7 173.19L172.83 182.8L172.95 184.09L173.07 184.9L173.2 184.09L173.32 182.8L173.45 177.18L173.57 174.44L173.69 173.09L173.82 170.72L173.94 170.92L174.07 171.42L174.19 174.03L174.31 176.52L174.44 177.59L174.56 179.7L174.69 179.84L174.81 177.13L174.93 175.84L175.06 169.92L175.18 169.27L175.31 169.01L175.43 166.86L175.55 168.15L175.68 171.35L175.8 172.03L175.93 176.72L176.05 179.12L176.17 177.12L176.3 177.62L176.42 172.91L176.55 172.35L176.67 170.01L176.79 165.33L176.92 167.29L177.04 166.83L177.17 167.73L177.29 172.26L177.41 174.77L177.54 176.14L177.66 175.75L177.79 176.84L177.91 173.21L178.03 170.6L178.16 165.57L178.28 166.79L178.41 167.04L178.53 164.17L178.65 162.95L178.78 162.19L178.9 162.95L179.03 164.17L179.15 179.75L179.27 178.16L179.4 178.27L179.52 172.83L179.65 167.12L179.77 164.48L179.89 163.46L180.02 162.83L180.14 163.46L180.27 164.48L180.39 175.98L180.51 175.34L180.64 176.09L180.76 174.66L180.88 174.32L181.01 169.46L181.13 168.35L181.26 167.26L181.38 167.29L181.5 167.96L181.63 168.86L181.75 172.34L181.88 173.38L182 175.54L182.12 175.36L182.25 175.16L182.37 174.24L182.5 173.81L182.62 169.77L182.74 168.04L182.87 168.45L182.99 168.93L183.12 171.81L183.24 174.13L183.36 176.8L183.49 175.92L183.61 177.6L183.74 177.46L183.86 176.57L183.98 172.79L184.11 168.19L184.23 167.32L184.36 168.07L184.48 166.39L184.6 168.54L184.73 171.86L184.85 180.48L184.98 181.24L185.1 181.72L185.22 181.24L185.35 180.48L185.47 169.94L185.6 169.2L185.72 165.38L185.84 170.14L185.97 167.63L186.09 169.27L186.22 173.58L186.34 176.1L186.46 180.7L186.59 181.72L186.71 182.36L186.84 181.72L186.96 180.7L187.08 167.2L187.21 166.58L187.33 165.97L187.46 166.82L187.58 168.12L187.7 174.17L187.83 178.15L187.95 178.66L188.08 179.81L188.2 178.81L188.32 174.71L188.45 170.21L188.57 169.04L188.7 164.13L188.82 167.15L188.94 165.12L189.07 170.88L189.19 174.1L189.31 173.79L189.44 177.09L189.56 178.09L189.69 176.54L189.81 172.96L189.93 170.59L190.06 166.83L190.18 162.94L190.31 164.73L190.43 165.88L190.55 169.15L190.68 170.54L190.8 174.59L190.93 176.62L191.05 179.18L191.17 178.04L191.3 173.67L191.42 171.83L191.55 166.91L191.67 164.96L191.79 166.52L191.92 166.9L192.04 169.66L192.17 170.5L192.29 173.35L192.41 179.95L192.54 180.5L192.66 180.92L192.79 175.5L192.91 172L193.03 171.14L193.16 166.76L193.28 169.64L193.41 168.53L193.53 169.96L193.65 174.77L193.78 174.25L193.9 175.79L194.03 179.69L194.15 178.53L194.27 173.14L194.4 170.81L194.52 169L194.65 165.31L194.77 164.54L194.89 165.94L195.02 167.39L195.14 171.37L195.27 172.61L195.39 175.15L195.51 176.53L195.64 174.82L195.76 172.05L195.89 169.87L196.01 169.82L196.13 165.58L196.26 166.21L196.38 165.41L196.51 169.33L196.63 171.41L196.75 174.65L196.88 175.04L197 177.08L197.13 176.44L197.25 173.61L197.37 171.66L197.5 168.63L197.62 167.29L197.74 166.81L197.87 166.62L197.99 170.38L198.12 172.56L198.24 175.33L198.36 176.28L198.49 178.06L198.61 177.33L198.74 174.59L198.86 171.3L198.98 169.62L199.11 168.51L199.23 168.49L199.36 167.89L199.48 168.89L199.6 172.89L199.73 175.64L199.85 177.21L199.98 179.4L200.1 177.72L200.22 175.45L200.35 171.87L200.47 164.48L200.6 163.46L200.72 162.83L200.84 163.46L200.97 164.48L201.09 173.1L201.22 176.75L201.34 178.42L201.46 181.3L201.59 176.69L201.71 176.79L201.84 170.41L201.96 168.06L202.08 165.93L202.21 164.77L202.33 164.71L202.46 170.96L202.58 174.58L202.7 178.53L202.83 181.98L202.95 178.89L203.08 178.45L203.2 176.19L203.32 170.65L203.45 170.51L203.57 167.12L203.7 164.65L203.82 181.79L203.94 182.53L204.07 182.99L204.19 182.53L204.32 181.79L204.44 179.97L204.56 178.51L204.69 174.9L204.81 173.84L204.94 169.36L205.06 166.57L205.18 166.57L205.31 167.86L205.43 171.8L205.56 173.47L205.68 178.22L205.8 178.01L205.93 176.7L206.05 179.79L206.18 178.76L206.3 172.73L206.42 168.57L206.55 165.57L206.67 164.93L206.79 168.45L206.92 170.75L207.04 171.03L207.17 177.37L207.29 176.68L207.41 179.03L207.54 176.51L207.66 173.95L207.79 170.52L207.91 167.42L208.03 167.8L208.16 165.61L208.28 167.22L208.41 169.44L208.53 171.55L208.65 177.04L208.78 179.95L208.9 180.38L209.03 178.58L209.15 174.28L209.27 172.94L209.4 167.81L209.52 167.27L209.65 167.5L209.77 169.85L209.89 169.73L210.02 171.87L210.14 178.18L210.27 176.29L210.39 176.04L210.51 176.4L210.64 173.51L210.76 167.74L210.89 166.14L211.01 166.73L211.13 165.09L211.26 166.32L211.38 168.62L211.51 174.11L211.63 172.76L211.75 175.87L211.88 175.18L212 174.41L212.13 171.34L212.25 169.99L212.37 167.44L212.5 163.79L212.62 163.65L212.75 165.48L212.87 166.22L212.99 170.88L213.12 174.62L213.24 174.06L213.37 177.45L213.49 174.24L213.61 162.98L213.74 162.21L213.86 161.74L213.99 162.21L214.11 162.98L214.23 165.62L214.36 168.12L214.48 171.58L214.61 173.82L214.73 177.16L214.85 177.06L214.98 175.74L215.1 173.82L215.22 170.36L215.35 161.86L215.47 159.83L215.6 158.55L215.72 159.83L215.84 161.86L215.97 169.11L216.09 172.19L216.22 173.92L216.34 175.08L216.46 173.1L216.59 173.08L216.71 169.33L216.84 165.3L216.96 163.75L217.08 163.85L217.21 165.82L217.33 166.75L217.46 170.32L217.58 170.55L217.7 172.37L217.83 171.78L217.95 169.77L218.08 169.81L218.2 167.05L218.32 166.7L218.45 165.62L218.57 164.57L218.7 164.36L218.82 167.45L218.94 168.94L219.07 171.38L219.19 171.21L219.32 170.45L219.44 170.64L219.56 169.75L219.69 168.64L219.81 164.62L219.94 162.52L220.06 162.29L220.18 163.39L220.31 166.65L220.43 166.15L220.56 170.36L220.68 172.02L220.8 171.58L220.93 172.47L221.05 169.21L221.18 166.66L221.3 163.91L221.42 162.04L221.55 162.18L221.67 165.05L221.8 165.73L221.92 167.64L222.04 169.98L222.17 171.97L222.29 171.92L222.42 170.63L222.54 169.05L222.66 167.23L222.79 166.62L222.91 163.49L223.04 165.65L223.16 164.38L223.28 164.03L223.41 167.78L223.53 168.84L223.65 171.01L223.78 169.19L223.9 170.71L224.03 167.92L224.15 159.31L224.27 157.28L224.4 156.01L224.52 157.28L224.65 159.31L224.77 165L224.89 167.57L225.02 168.86L225.14 169.94L225.27 171.72L225.39 171.3L225.51 169.55L225.64 167.01L225.76 163.12L225.89 162.5L226.01 161.29L226.13 162.85L226.26 166.03L226.38 166.85L226.51 171.64L226.63 172.07L226.75 170.67L226.88 173.08L227 169.63L227.13 168.86L227.25 164.52L227.37 163.84L227.5 161.72L227.62 163.11L227.75 164.68L227.87 165.78L227.99 171.01L228.12 172.71L228.24 174.18L228.37 173.15L228.49 171.2L228.61 169.16L228.74 164L228.86 160.18L228.99 161.27L229.11 163.62L229.23 163L229.36 168.47L229.48 171.54L229.61 174.18L229.73 174.26L229.85 172.14L229.98 166.81L230.1 166.4L230.23 164.35L230.35 161.73L230.47 160.7L230.6 163.61L230.72 163.75L230.85 166.06L230.97 169.74L231.09 171.45L231.22 173.04L231.34 172.9L231.47 166.96L231.59 163.92L231.71 164.43L231.84 160.67L231.96 160.41L232.09 160.68L232.21 163L232.33 166.37L232.46 167.58L232.58 169.04L232.7 169.56L232.83 170.59L232.95 169.95L233.08 165.26L233.2 163.57L233.32 159.95L233.45 159.11L233.57 160.54L233.7 163.19L233.82 165.18L233.94 166.85L234.07 170.38L234.19 169.2L234.32 168.37L234.44 166.58L234.56 162.71L234.69 162.42L234.81 159.23L234.94 160.59L235.06 161.28L235.18 163.45L235.31 164.48L235.43 167.87L235.56 168.36L235.68 169.83" fill="none" stroke="#1f77b4" stroke-width="1.0" stroke-linejoin="round"/>
<polygon points="230.9,167.12 232.38,166.82 233.87,166.52 235.36,166.2 236.85,165.88 238.33,165.55 239.82,165.21 241.31,164.87 242.8,164.53 244.28,164.18 245.77,163.82 247.26,163.47 248.75,163.11 250.23,162.75 251.72,162.39 253.21,162.02 254.7,161.66 256.19,161.3 257.67,160.94 259.16,160.58 260.65,160.23 262.14,159.87 263.62,159.53 265.11,159.18 266.6,158.84 268.09,158.51 269.57,158.18 271.06,157.86 272.55,157.54 274.04,157.23 275.52,156.94 275.52,144.26 274.04,145.16 272.55,146.05 271.06,146.95 269.57,147.84 268.09,148.74 266.6,149.63 265.11,150.51 263.62,151.39 262.14,152.27 260.65,153.13 259.16,153.99 257.67,154.83 256.19,155.67 254.7,156.49 253.21,157.29 251.72,158.08 250.23,158.85 248.75,159.61 247.26,160.34 245.77,161.05 244.28,161.74 242.8,162.41 241.31,163.05 239.82,163.67 238.33,164.26 236.85,164.82 235.36,165.35 233.87,165.85 232.38,166.31 230.9,166.74" fill="#2e8b2e" fill-opacity="0.2"/>
<polygon points="230.9,167.17 232.38,166.89 233.87,166.6 235.36,166.31 236.85,166.01 238.33,165.71 239.82,165.4 241.31,165.1 242.8,164.79 244.28,164.48 245.77,164.17 247.26,163.86 248.75,163.55 250.23,163.23 251.72,162.92 253.21,162.62 254.7,162.31 256.19,162.01 257.67,161.7 259.16,161.41 260.65,161.11 262.14,160.83 263.62,160.54 265.11,160.26 266.6,159.99 268.09,159.73 269.57,159.47 271.06,159.22 272.55,158.98 274.04,158.74 275.52,158.52 275.52,147.43 274.04,148.18 272.55,148.92 271.06,149.67 269.57,150.43 268.09,151.18 266.6,151.93 265.11,152.68 263.62,153.43 262.14,154.17 260.65,154.91 259.16,155.64 257.67,156.36 256.19,157.07 254.7,157.78 253.21,158.47 251.72,159.16 250.23,159.83 248.75,160.48 247.26,161.12 245.77,161.74 244.28,162.35 242.8,162.94 241.31,163.51 239.82,164.05 238.33,164.58 236.85,165.08 235.36,165.56 233.87,166.01 232.38,166.44 230.9,166.84" fill="#2a6fb8" fill-opacity="0.32"/>
<polygon points="230.9,167.22 232.38,166.95 233.87,166.68 235.36,166.41 236.85,166.14 238.33,165.87 239.82,165.6 241.31,165.33 242.8,165.05 244.28,164.78 245.77,164.51 247.26,164.25 248.75,163.98 250.23,163.72 251.72,163.46 253.21,163.21 254.7,162.96 256.19,162.71 257.67,162.47 259.16,162.23 260.65,162 262.14,161.78 263.62,161.56 265.11,161.35 266.6,161.14 268.09,160.95 269.57,160.76 271.06,160.58 272.55,160.41 274.04,160.25 275.52,160.1 275.52,149.65 274.04,150.29 272.55,150.93 271.06,151.58 269.57,152.23 268.09,152.89 266.6,153.54 265.11,154.2 263.62,154.85 262.14,155.5 260.65,156.15 259.16,156.79 257.67,157.43 256.19,158.06 254.7,158.69 253.21,159.3 251.72,159.91 250.23,160.51 248.75,161.09 247.26,161.67 245.77,162.23 244.28,162.78 242.8,163.31 241.31,163.83 239.82,164.32 238.33,164.81 236.85,165.27 235.36,165.71 233.87,166.13 232.38,166.53 230.9,166.91" fill="#8a2be2" fill-opacity="0.2"/>
<line x1="166.18" y1="176.03" x2="275.52" y2="164.04" stroke="#000" stroke-width="1.2"/>
<line x1="190.73" y1="174.71" x2="275.52" y2="161.57" stroke="#a52a2a" stroke-width="1.1"/>
<line x1="205.6" y1="174.74" x2="275.52" y2="154.7" stroke="#f00" stroke-width="1.2"/>
<polyline points="230.9,166.98 232.38,166.71 233.87,166.41 235.36,166.09 236.85,165.76 238.33,165.4 239.82,165.03 241.31,164.64 242.8,164.24 244.28,163.81 245.77,163.38 247.26,162.92 248.75,162.46 250.23,161.97 251.72,161.48 253.21,160.97 254.7,160.45 256.19,159.92 257.67,159.37 259.16,158.82 260.65,158.25 262.14,157.68 263.62,157.1 265.11,156.51 266.6,155.91 268.09,155.3 269.57,154.69 271.06,154.07 272.55,153.45 274.04,152.82 275.52,152.18" fill="none" stroke="#008000" stroke-width="1.2" stroke-dasharray="4.1 1.5"/>
<polyline points="230.9,166.98 232.38,166.71 233.87,166.42 235.36,166.11 236.85,165.79 238.33,165.46 239.82,165.11 241.31,164.75 242.8,164.38 244.28,163.99 245.77,163.6 247.26,163.19 248.75,162.77 250.23,162.34 251.72,161.91 253.21,161.46 254.7,161.01 256.19,160.54 257.67,160.07 259.16,159.6 260.65,159.12 262.14,158.63 263.62,158.13 265.11,157.64 266.6,157.14 268.09,156.63 269.57,156.12 271.06,155.61 272.55,155.1 274.04,154.58 275.52,154.07" fill="none" stroke="#0000ff" stroke-width="1.2" stroke-dasharray="4.1 1.5"/>
<polyline points="230.9,166.98 232.38,166.71 233.87,166.43 235.36,166.14 236.85,165.84 238.33,165.53 239.82,165.21 241.31,164.88 242.8,164.55 244.28,164.2 245.77,163.86 247.26,163.5 248.75,163.14 250.23,162.78 251.72,162.41 253.21,162.04 254.7,161.66 256.19,161.28 257.67,160.9 259.16,160.51 260.65,160.12 262.14,159.74 263.62,159.35 265.11,158.96 266.6,158.57 268.09,158.18 269.57,157.8 271.06,157.41 272.55,157.03 274.04,156.65 275.52,156.28" fill="none" stroke="#9400d3" stroke-width="1.2" stroke-dasharray="4.1 1.5"/>
</g>
<text x="33" y="198.45" font-size="5.7" text-anchor="end" fill="#1a1a1a" stroke="#1a1a1a" stroke-width="0.08">−500</text>
<text x="33" y="174.74" font-size="5.7" text-anchor="end" fill="#1a1a1a" stroke="#1a1a1a" stroke-width="0.08">0</text>
<text x="33" y="151.02" font-size="5.7" text-anchor="end" fill="#1a1a1a" stroke="#1a1a1a" stroke-width="0.08">500</text>
<text x="33" y="127.31" font-size="5.7" text-anchor="end" fill="#1a1a1a" stroke="#1a1a1a" stroke-width="0.08">1000</text>
<path d="M37.5 115.9H278.5V196.15H37.5ZM35.1 196.15H37.5M35.1 172.44H37.5M35.1 148.72H37.5M35.1 125.01H37.5M52.38 196.15V198.55M82.13 196.15V198.55M111.88 196.15V198.55M141.64 196.15V198.55M171.39 196.15V198.55M201.14 196.15V198.55M230.9 196.15V198.55M260.65 196.15V198.55" stroke="#6a6a6a" stroke-width="1" fill="none"/>
<text x="158" y="112.3" font-size="9.25" text-anchor="middle" fill="#000" stroke="#000" stroke-width="0.06">Springmaid</text>
<text x="40.2" y="125.53" font-size="7.56" fill="#000" stroke="#000" stroke-width="0.14" xml:space="preserve" style="white-space:pre">1977-2022:  3.44+-0.11 mm/yr</text>
<text x="175.87" y="125.53" font-size="7.56" fill="#000" stroke="#000" stroke-width="0.14" xml:space="preserve" style="white-space:pre">SL at 2050  177+- 3 mm</text>
<text x="40.2" y="135.16" font-size="7.56" fill="#a52a2a" stroke="#a52a2a" stroke-width="0.14" xml:space="preserve" style="white-space:pre">1993-2022:  4.86+-0.40 mm/yr</text>
<text x="175.87" y="135.16" font-size="7.56" fill="#a52a2a" stroke="#a52a2a" stroke-width="0.14" xml:space="preserve" style="white-space:pre">SL at 2050  229+-12 mm</text>
<text x="40.2" y="144.79" font-size="7.56" fill="#dc2024" stroke="#dc2024" stroke-width="0.14" xml:space="preserve" style="white-space:pre">2003-2022:  8.99+-1.26 mm/yr</text>
<text x="175.87" y="144.79" font-size="7.56" fill="#dc2024" stroke="#dc2024" stroke-width="0.14" xml:space="preserve" style="white-space:pre">SL at 2050  374+-38 mm</text>
</g>
<g id="c11">
<clipPath id="kc11"><rect x="305.5" y="115.9" width="241" height="80.25"/></clipPath>
<g clip-path="url(#kc11)">
<path d="M321.36 188.97L321.49 187.31L321.61 187.81L321.74 188.51L321.86 190.2L321.98 193.99L322.11 194.64L322.23 194.59L322.36 191.99L322.48 180.72L322.6 178.94L322.73 177.83L322.85 178.94L322.98 180.72L323.1 185.24L323.22 187.36L323.35 187.92L323.47 192.12L323.6 192.95L323.72 192.1L323.84 192.28L323.97 189.63L324.09 186.84L324.22 184L324.34 181.61L324.46 180.85L324.59 180.37L324.71 180.85L324.83 181.61L324.96 190.65L325.08 191.35L325.21 192.24L325.33 191.37L325.45 189.24L325.58 188.14L325.7 183.73L325.83 184.49L325.95 185.17L326.07 183.52L326.45 194.66L352.93 177.09L353.05 182.75L353.18 183.58L353.3 186.3L353.42 186.65L353.55 186.55L353.67 182.89L353.8 181.41L353.92 181.17L354.04 178.04L354.17 179.6L354.29 177.71L354.42 180.23L354.54 183.93L354.66 187.94L354.79 191.09L354.91 189.7L355.04 189.69L355.16 187.11L355.28 182.04L355.41 181.09L355.53 178.97L355.66 178.57L355.78 180.6L355.9 177.59L356.03 184.58L356.15 187.31L356.28 187.33L356.4 191.7L356.52 187.96L356.65 185.56L356.77 183.94L356.9 178.91L357.02 180.31L357.14 176.89L357.27 176.72L357.39 183.65L357.51 185.8L357.64 187.06L357.76 188.95L357.89 190.47L358.01 188.32L358.13 186.47L358.26 185.91L358.38 181.64L358.51 181.44L358.63 182.19L358.75 183.89L358.88 182.16L359 186.51L359.13 187.66L359.25 193.07L359.37 193.13L359.5 191.6L359.62 189.26L359.75 177.22L359.87 176.42L359.99 175.92L360.12 176.42L360.24 177.22L360.37 180.85L360.49 185.97L360.61 187.97L360.74 192.16L360.86 193.9L360.99 194.85L361.11 195.45L361.23 194.85L361.36 193.9L361.48 181.57L361.61 182.59L361.73 181.69L361.85 185.92L361.98 185.97L362.1 190.3L362.23 191.75L362.35 192L362.47 189.09L362.6 188.55L362.72 185.72L362.85 183.01L362.97 178.5L363.09 179.04L363.22 179.87L363.34 182.15L363.47 184.86L363.59 189.67L363.71 189.91L363.84 189L363.96 191.89L364.09 185.86L364.21 181.78L364.33 182.09L364.46 178.64L364.58 180.49L364.71 179.58L364.83 182.75L364.95 185.03L365.08 189.04L365.2 190.69L365.33 190.7L365.45 190L365.57 187.77L365.7 184.75L365.82 183.91L365.94 181.64L366.07 180.66L366.19 184.31L366.32 183.03L366.44 185.99L366.56 189.39L366.69 190.79L366.81 190.74L366.94 190.33L367.06 186.62L367.18 185.28L367.31 180.36L367.43 180.75L367.56 178.57L367.68 178.88L367.8 183.3L367.93 183.24L368.05 183.66L368.18 188.16L368.3 187.31L368.42 187.41L368.55 185.31L368.67 183.07L368.8 180.25L368.92 176.22L369.04 175.18L369.17 177.43L369.29 177.83L369.42 181.78L369.54 185.72L369.66 190.06L369.79 186.68L369.91 186.27L370.04 188.7L370.16 183.46L370.28 178.33L370.41 173.62L370.53 173.57L370.66 175.83L370.78 178.35L370.9 181.81L371.03 188.16L371.15 187.63L371.28 189.48L371.4 187.45L371.52 185.01L371.65 183.16L371.77 179.75L371.9 176.2L372.02 175.55L372.14 177.23L372.27 177.89L372.39 182.95L372.52 187.53L372.64 188.69L372.76 189.11L372.89 187.83L373.01 183.38L373.14 180.77L373.26 176.91L373.38 175.36L373.51 175.87L373.63 175.49L373.76 179.83L373.88 182.54L374 190.83L374.13 191.71L374.25 192.26L374.37 191.71L374.5 190.83L374.62 178.47L374.75 176.62L374.87 175.51L374.99 174.33L375.12 175.76L375.24 179.87L375.37 182.96L375.49 185.26L375.61 187.32L375.74 185.01L375.86 186.82L375.99 184.83L376.11 180.61L376.23 179.54L376.36 178.14L376.48 177.19L376.61 176.47L376.73 179L376.85 182.03L376.98 185.54L377.1 187.78L377.23 185.77L377.35 187.95L377.47 173.34L377.6 172.58L377.72 172.1L377.85 172.58L377.97 173.34L378.09 179.7L378.22 176.81L378.34 183.36L378.47 184.56L378.59 185.75L378.71 188.4L378.84 186.42L378.96 183.29L379.09 181.06L379.21 178.58L379.33 175.16L379.46 174.78L379.58 178.14L379.71 177.11L379.83 181.74L379.95 187.7L380.08 187.57L380.2 184.97L380.33 184.19L380.45 183.68L380.57 183.27L380.7 178.34L380.82 174.49L380.95 174.76L381.07 176.86L381.19 180.01L381.32 181.23L381.44 186.43L381.57 188.22L381.69 188.6L381.81 185.63L381.94 184.62L382.06 180.7L382.19 180.06L382.31 173.7L382.43 173.56L382.56 175.83L382.68 181.69L382.81 182.92L382.93 185.56L383.05 185.19L383.18 187.84L383.3 172.32L383.42 171.62L383.55 171.19L383.67 171.62L383.8 172.32L383.92 175.57L384.04 175.36L384.17 178L384.29 180.75L384.42 186.24L384.54 187.25L384.66 188.31L384.79 183.39L384.91 183.85L385.04 175.6L385.16 174.37L385.28 176.61L385.41 173.33L385.53 174.84L385.66 179.71L385.78 179.72L385.9 183.31L386.03 184.61L386.15 186.5L386.28 184.49L386.4 181.72L386.52 179.4L386.65 176.36L386.77 173.18L386.9 173.31L387.02 172.62L387.14 179.4L387.27 177.49L387.39 182.62L387.52 184.22L387.64 184.25L387.76 186.16L387.89 177.86L388.01 179.2L388.14 172.25L388.26 169.38L388.38 168.9L388.51 170.53L388.63 176.2L388.76 177.85L388.88 184.96L389 183.36L389.13 184.21L389.25 179.89L389.38 180.23L389.5 177.07L389.62 173.3L389.75 170.55L389.87 169.28L390 168.97L390.12 175.33L390.24 177.72L390.37 184.15L390.49 185L390.62 185.22L390.74 185.78L390.86 181.2L390.99 175.78L391.11 171.32L391.24 168.71L391.36 169.8L391.48 172.48L391.61 176.27L391.73 176.3L391.85 179.68L391.98 184.25L392.1 183.22L392.23 184.84L392.35 181.29L392.47 173.87L392.6 174.07L392.72 168.97L392.85 168.56L392.97 170.29L393.09 170.95L393.22 179.1L393.34 182.73L393.47 185.96L393.59 185.9L393.71 184.88L393.84 181.06L393.96 176.18L394.09 171.26L394.21 169.93L394.33 171.37L394.46 169.83L394.58 172.94L394.71 179.72L394.83 183.1L394.95 182.07L395.08 183.96L395.2 182.63L395.33 180.37L395.45 177.67L395.57 176.32L395.7 173.39L395.82 174.25L395.95 175.62L396.07 176.97L396.19 179.72L396.32 182.05L396.44 186.63L396.57 182.96L396.69 186.18L396.81 182.45L396.94 176.93L397.06 170.08L397.19 168.8L397.31 168.01L397.43 168.8L397.56 170.08L397.68 180.75L397.81 182.91L397.93 184.12L398.05 184.55L398.18 182.28L398.3 179.79L398.43 177.14L398.55 176.17L398.67 173.08L398.8 175.38L398.92 175.19L399.05 175.29L399.17 178.94L399.29 185.45L399.42 186.83L399.54 185.61L399.67 184.8L399.79 181.57L399.91 181.7L400.04 177.82L400.16 174.47L400.28 174.93L400.41 175.05L400.53 177.54L400.66 180.57L400.78 183.65L400.9 184.6L401.03 184.82L401.15 184.59L401.28 184.07L401.4 177.41L401.52 175.89L401.65 173.4L401.77 173.01L401.9 176.62L402.02 175.77L402.14 180.82L402.27 185.68L402.39 184.53L402.52 187.59L402.64 185.21L402.76 181.04L402.89 175.73L403.01 176.63L403.14 172.08L403.26 170.03L403.38 172.66L403.51 179.98L403.63 179.23L403.76 183.12L403.88 185.05L404 186.74L404.13 186.39L404.25 182.07L404.38 178.33L404.5 175.86L404.62 172.39L404.75 171.6L404.87 175.05L405 174.39L405.12 178.43L405.24 182.5L405.37 188.58L405.49 186.96L405.62 185.8L405.74 183.91L405.86 177.24L405.99 176.78L406.11 169.95L406.24 170.64L406.36 173.4L406.48 173.43L406.61 188.43L406.73 189.45L406.86 190.08L406.98 189.45L407.1 188.43L407.23 180.54L407.35 179.91L407.48 171.83L407.6 169.92L407.72 169.92L407.85 172.51L407.97 177.5L408.1 180.84L408.22 184.1L408.34 185.37L408.47 185.59L408.59 186.1L408.71 184.28L408.84 178.24L408.96 175.24L409.09 169.28L409.21 171.18L409.33 170.06L409.46 173.01L409.58 180.25L409.71 180.13L409.83 184.03L409.95 185.56L410.08 184.57L410.2 180.49L410.33 169.47L410.45 168.57L410.57 168.01L410.7 168.57L410.82 169.47L410.95 175.71L411.07 179.15L411.19 181.57L411.32 182.07L411.44 184.85L411.57 180.21L411.69 179.8L411.81 179.18L411.94 177.49L412.06 172.68L412.19 172.65L412.31 172.52L412.43 175.47L412.56 177.33L412.68 182.91L412.81 183.66L412.93 185.88L413.05 184.82L413.18 179.82L413.3 179.01L413.43 175.83L413.55 173.98L413.67 172.34L413.8 173.05L413.92 176.72L414.05 181.69L414.17 182.41L414.29 186.24L414.42 186.12L414.54 184.22L414.67 181.79L414.79 182.43L414.91 172.49L415.04 170.43L415.16 169.72L415.29 169.28L415.41 169.72L415.53 170.43L415.66 184.53L415.78 186.21L415.91 188.59L416.03 187.14L416.15 181.55L416.28 180.22L416.4 175.14L416.53 171.45L416.65 172.79L416.77 172.34L416.9 176.3L417.02 182.07L417.15 183.86L417.27 185.75L417.39 186.56L417.52 184.75L417.64 181.44L417.76 178.03L417.89 174.43L418.01 172.83L418.14 172.03L418.26 173.78L418.38 177.18L418.51 178.42L418.63 185.96L418.76 185.47L418.88 186.85L419 185.75L419.13 181.21L419.25 179L419.38 173.29L419.5 173.8L419.62 172.11L419.75 173.62L419.87 175.42L420 179.38L420.12 183.14L420.24 184.99L420.37 184.18L420.49 184.01L420.62 181L420.74 177.56L420.86 175.03L420.99 173.93L421.11 172.77L421.24 172.35L421.36 177.8L421.48 177.58L421.61 183.04L421.73 186.15L421.86 186.2L421.98 183.5L422.1 180.63L422.23 176.55L422.35 170.3L422.48 168.46L422.6 171.3L422.72 169.45L422.85 175L422.97 179.89L423.1 182.55L423.22 182.9L423.34 185.23L423.47 184.12L423.59 178.04L423.72 175.41L423.84 173.65L423.96 169.06L424.09 170.5L424.21 173.24L424.34 175.93L424.46 177.99L424.58 180.63L424.71 181.96L424.83 182.79L424.96 182.6L425.08 181.6L425.2 174.41L425.33 166.57L425.45 165.89L425.58 165.46L425.7 165.89L425.82 166.57L425.95 175.15L426.07 182.24L426.19 179.98L426.32 184.32L426.44 181.99L426.57 176.38L426.69 172.45L426.81 171.46L426.94 166.4L427.06 165.75L427.19 167.23L427.31 173.19L427.43 173.34L427.56 182.72L427.68 183.14L427.81 184.12L427.93 183.19L428.05 179.74L428.18 174.48L428.3 174.05L428.43 169.79L428.55 167.55L428.67 170.39L428.8 172.18L428.92 175.74L429.05 180.6L429.17 182.28L429.29 182.21L429.42 180.27L429.54 175.11L429.67 172.01L429.79 171.34L429.91 168.69L430.04 169.07L430.16 172.58L430.29 170.37L430.41 175.54L430.53 183.26L430.66 183.07L430.78 180.42L430.91 181.96L431.03 179.02L431.15 175.68L431.28 173.43L431.4 171.59L431.53 170.58L431.65 170.55L431.77 174.27L431.9 176.95L432.02 179.62L432.15 184.31L432.27 184.79L432.39 185.13L432.52 183.14L432.64 173.3L432.77 171.68L432.89 168.25L433.01 169.99L433.14 173.56L433.26 172.01L433.39 181.9L433.51 181.76L433.63 184.46L433.76 183.86L433.88 181.89L434.01 179.51L434.13 180.56L434.25 172.49L434.38 174.14L434.5 170.72L434.62 173.24L434.75 177.2L434.87 179.87L435 183.11L435.12 182.92L435.24 182.04L435.37 181.3L435.49 180.31L435.62 176.25L435.74 174.01L435.86 170.32L435.99 171.24L436.11 173.75L436.24 175.7L436.36 179.3L436.48 181.86L436.61 183.73L436.73 183.13L436.86 181.83L436.98 180.26L437.1 176.58L437.23 175.31L437.35 173.14L437.48 175.15L437.6 173.93L437.72 175.81L437.85 174.71L437.97 183.45L438.1 184.01L438.22 184.99L438.34 184.99L438.47 180.34L438.59 177.24L438.72 176.43L438.84 175.73L438.96 172.51L439.09 175.24L439.21 174.9L439.34 178.98L439.46 180.77L439.58 183.69L439.71 182.02L439.83 182.04L439.96 178.71L440.08 177.5L440.2 176.36L440.33 175.08L440.45 173.44L440.58 173.35L440.7 176.64L440.82 175.5L440.95 181.19L441.07 182.27L441.2 183.17L441.32 183.92L441.44 178.64L441.57 176.25L441.69 172.76L441.82 172.95L441.94 170.95L442.06 172.03L442.19 172.8L442.31 179.48L442.44 180.63L442.56 182.4L442.68 184.94L442.81 184.43L442.93 178.02L443.06 175.32L443.18 170.23L443.3 168.11L443.43 167.71L443.55 169.87L443.67 175.6L443.8 175.5L443.92 180.43L444.05 180.68L444.17 182.86L444.29 178.33L444.42 178.1L444.54 172.78L444.67 168.4L444.79 167.37L444.91 166.18L445.04 167.76L445.16 171.99L445.29 172.43L445.41 178.62L445.53 181.49L445.66 180.56L445.78 178.6L445.91 176.25L446.03 173.64L446.15 170.61L446.28 165.42L446.4 164.27L446.53 163.55L446.65 164.27L446.77 165.42L446.9 175.77L447.02 178.53L447.15 181.48L447.27 179.01L447.39 178.18L447.52 166.2L447.64 164.18L447.77 162.92L447.89 164.18L448.01 166.2L448.14 170.58L448.26 176.67L448.39 177.19L448.51 180.42L448.63 179.21L448.76 178.98L448.88 178.09L449.01 173.67L449.13 171.45L449.25 169.69L449.38 170.26L449.5 170.83L449.63 173.9L449.75 174.77L449.87 179.37L450 180.4L450.12 179.61L450.25 179.37L450.37 177.54L450.49 175.07L450.62 172.91L450.74 171.29L450.87 171.81L450.99 174.04L451.11 172.99L451.24 177.1L451.36 176.39L451.49 179.12L451.61 176.85L451.73 177.97L451.86 176.96L451.98 174.19L452.1 174.68L452.23 171.65L452.35 171.74L452.48 171.9L452.6 175.81L452.72 178.14L452.85 177.71L452.97 180.35L453.1 181.31L453.22 179.77L453.34 177.99L453.47 174.84L453.59 170.95L453.72 170.16L453.84 168.71L453.96 171.12L454.09 181.65L454.21 182.92L454.34 183.72L454.46 182.92L454.58 181.65L454.71 179.89L454.83 176.21L454.96 173.66L455.08 171.78L455.2 172.56L455.33 171.19L455.45 170.87L455.58 173.21L455.7 175.29L455.82 177.35L455.95 176.75L456.07 177.66L456.2 176.12L456.32 175.86L456.44 171.48L456.57 166.91L456.69 166.02L456.82 165.46L456.94 166.02L457.06 166.91L457.19 174.47L457.31 177.44L457.44 179.01L457.56 179.65L457.68 179.9L457.81 175L457.93 171.28L458.06 170.35L458.18 168.33L458.3 166.66L458.43 168.57L458.55 169.27L458.68 174.35L458.8 174.93L458.92 178.82L459.05 179.54L459.17 178.94L459.3 176.86L459.42 171.73L459.54 168.05L459.67 166.79L459.79 165.99L459.92 170.49L460.04 168.29L460.16 175.03L460.29 174.77L460.41 175.43L460.53 179.5L460.66 177.43L460.78 174.72L460.91 173.96L461.03 169.85L461.15 166.66L461.28 164.86L461.4 165.37L461.53 169.5L461.65 171.98L461.77 177.86L461.9 180.63L462.02 180.14L462.15 164.07L462.27 162.58L462.39 161.65L462.52 162.58L462.64 164.07L462.77 167.97L462.89 170.44L463.01 169.94L463.14 172.73L463.26 175.26L463.39 177.73L463.51 178.81L463.63 178.1L463.76 174.37L463.88 169.94L464.01 167.2L464.13 165.41L464.25 165.25L464.38 165.34L464.5 171.11L464.63 173.04L464.75 174.66L464.87 178.96L465 179.24L465.12 176.83L465.25 175.4L465.37 170.85L465.49 170.51L465.62 168.14L465.74 166.57L465.87 168.18L465.99 172.6L466.11 174.52L466.24 176.51L466.36 176.94L466.49 178.62L466.61 175.95L466.73 173.25L466.86 171.36L466.98 171.02L467.11 168.71L467.23 168.09L467.35 169.44L467.48 168.91L467.6 174.15L467.73 177.29L467.85 177.51L467.97 178.09L468.1 175.74L468.22 173.41L468.35 172.49L468.47 172.26L468.59 164.19L468.72 163.02L468.84 162.28L468.96 163.02L469.09 164.19L469.21 174.45L469.34 176.67L469.46 177.76L469.58 178.33L469.71 173.68L469.83 172.63L469.96 170.51L470.08 166.68L470.2 165.93L470.33 166.11L470.45 168.25L470.58 175.55L470.7 175.91L470.82 177.83L470.95 180.37L471.07 178.25L471.2 175.19L471.32 171.45L471.44 170.72L471.57 168.7L471.69 168.95L471.82 181.14L471.94 181.94L472.06 182.45L472.19 181.94L472.31 181.14L472.44 180.35L472.56 175.94L472.68 173.7L472.81 171.32L472.93 170.98L473.06 165.97L473.18 168L473.3 170.88L473.43 170.35L473.55 170.25L473.68 177.5L473.8 178.47L473.92 177.93L474.05 178.21L474.17 175.86L474.3 171.53L474.42 167.09L474.54 166.19L474.67 164.39L474.79 165.44L474.92 169.6L475.04 171.8L475.16 174.36L475.29 177.21L475.41 177.44L475.54 176.15L475.66 174.51L475.78 171.94L475.91 169.77L476.03 166.27L476.16 165.23L476.28 166.39L476.4 170.73L476.53 172.11L476.65 174.56L476.78 178.05L476.9 176.74L477.02 176.57L477.15 174.65L477.27 171.24L477.4 163.82L477.52 162.87L477.64 162.28L477.77 162.87L477.89 163.82L478.01 171.4L478.14 175.97L478.26 178.6L478.39 178.63L478.51 177.1L478.63 176.18L478.76 172.51L478.88 167.94L479.01 164.75L479.13 165.89L479.25 165.97L479.38 170.85L479.5 173.32L479.63 176.38L479.75 180.63L479.87 179.49L480 178.53L480.12 179.26L480.25 171.76L480.37 167.8L480.49 165.46L480.62 164.52L480.74 167.97L480.87 170.07L480.99 172.94L481.11 177.05L481.24 178.48L481.36 176.2L481.49 178.55L481.61 175.17L481.73 168.21L481.86 166.96L481.98 162.09L482.11 161.43L482.23 161.01L482.35 161.43L482.48 181.91L482.6 182.63L482.73 183.08L482.85 182.63L482.97 181.91L483.1 176.42L483.22 171.24L483.35 167.68L483.47 161.22L483.59 159.13L483.72 157.83L483.84 159.13L483.97 161.22L484.09 178.1L484.21 178.57L484.34 179.88L484.46 176.25L484.59 175.23L484.71 169.98L484.83 165.93L484.96 166.93L485.08 164.18L485.21 166L485.33 167.32L485.45 172.27L485.58 174.86L485.7 174.19L485.83 175.72L485.95 175.39L486.07 174.97L486.2 169.45L486.32 168.16L486.44 165.79L486.57 165.8L486.69 166.24L486.82 168.25L486.94 172.23L487.06 175.64L487.19 178.27L487.31 176.28L487.44 174.73L487.56 174.1L487.68 171.3L487.81 167.09L487.93 167.22L488.06 164.51L488.18 165.37L488.3 167.53L488.43 177.17L488.55 178.07L488.68 178.63L488.8 178.07L488.92 177.17L489.05 169.33L489.17 169.62L489.3 165.78L489.42 162.85L489.54 163.77L489.67 164.03L489.79 162.99L489.92 169.75L490.04 170.9L490.16 175.26L490.29 173.71L490.41 173.16L490.54 169.32L490.66 168.34L490.78 162.53L490.91 161.12L491.03 159.14L491.16 159.88L491.28 163.41L491.4 167.46L491.53 170.38L491.65 172.15L491.78 173.61L491.9 172.2L492.02 169.69L492.15 166.68L492.27 156.86L492.4 155.5L492.52 154.65L492.64 155.5L492.77 156.86L492.89 168.78L493.02 169.02L493.14 172.43L493.26 171.35L493.39 169.21L493.51 167.68L493.64 165.25L493.76 161.36L493.88 157.26L494.01 158.18L494.13 157.19L494.26 159.34L494.38 166.58L494.5 168.36L494.63 168.22L494.75 172.04L494.87 174.31L495 175.01L495.12 175.45L495.25 175.01L495.37 174.31L495.49 160.22L495.62 158.71L495.74 163.48L495.87 163.41L495.99 168.55L496.11 172.28L496.24 171.69L496.36 171.94L496.49 168.21L496.61 165.89L496.73 165.16L496.86 162.81L496.98 162.23L497.11 163.64L497.23 166.72L497.35 167.11L497.48 168.68L497.6 172.57L497.73 169.93L497.85 172.28L497.97 168.29L498.1 166.08L498.22 163.19L498.35 160.36L498.47 160.94L498.59 160.37L498.72 160.21L498.84 164.26L498.97 165.73L499.09 168.16L499.21 170.8L499.34 166.58L499.46 165.38L499.59 162.7L499.71 160.68L499.83 158.67L499.96 158.63L500.08 158.74L500.21 160.95L500.33 164.37L500.45 166.99L500.58 170.27L500.7 169.82L500.83 168.89L500.95 165.68L501.07 163.82L501.2 161.21L501.32 158.96L501.45 159.14L501.57 159.98L501.69 160.79L501.82 164.6L501.94 166.99L502.07 166.86L502.19 167.08L502.31 166.64L502.44 167.14L502.56 162.67L502.69 160.8L502.81 158.7L502.93 158.14L503.06 158.73L503.18 161.1L503.31 163L503.43 166.97" fill="none" stroke="#1f77b4" stroke-width="1.0" stroke-linejoin="round"/>
<polygon points="498.9,166.41 500.38,166.05 501.87,165.69 503.36,165.33 504.85,164.97 506.33,164.6 507.82,164.23 509.31,163.86 510.8,163.48 512.28,163.1 513.77,162.72 515.26,162.34 516.75,161.95 518.23,161.56 519.72,161.17 521.21,160.77 522.7,160.38 524.19,159.97 525.67,159.57 527.16,159.16 528.65,158.75 530.14,158.33 531.62,157.91 533.11,157.49 534.6,157.06 536.09,156.63 537.57,156.2 539.06,155.76 540.55,155.32 542.04,154.87 543.52,154.42 543.52,142.89 542.04,143.86 540.55,144.83 539.06,145.78 537.57,146.73 536.09,147.67 534.6,148.6 533.11,149.51 531.62,150.41 530.14,151.31 528.65,152.18 527.16,153.05 525.67,153.9 524.19,154.73 522.7,155.55 521.21,156.35 519.72,157.14 518.23,157.91 516.75,158.66 515.26,159.39 513.77,160.1 512.28,160.8 510.8,161.47 509.31,162.12 507.82,162.75 506.33,163.36 504.85,163.94 503.36,164.5 501.87,165.04 500.38,165.55 498.9,166.03" fill="#2e8b2e" fill-opacity="0.2"/>
<polygon points="498.9,166.46 500.38,166.12 501.87,165.78 503.36,165.43 504.85,165.09 506.33,164.75 507.82,164.41 509.31,164.07 510.8,163.73 512.28,163.39 513.77,163.05 515.26,162.71 516.75,162.36 518.23,162.02 519.72,161.67 521.21,161.33 522.7,160.98 524.19,160.63 525.67,160.28 527.16,159.92 528.65,159.57 530.14,159.21 531.62,158.85 533.11,158.49 534.6,158.12 536.09,157.75 537.57,157.38 539.06,157.01 540.55,156.63 542.04,156.25 543.52,155.86 543.52,145.77 542.04,146.61 540.55,147.45 539.06,148.28 537.57,149.1 536.09,149.91 534.6,150.71 533.11,151.51 531.62,152.29 530.14,153.06 528.65,153.82 527.16,154.58 525.67,155.31 524.19,156.04 522.7,156.76 521.21,157.46 519.72,158.15 518.23,158.82 516.75,159.48 515.26,160.13 513.77,160.76 512.28,161.37 510.8,161.97 509.31,162.55 507.82,163.12 506.33,163.67 504.85,164.2 503.36,164.71 501.87,165.2 500.38,165.67 498.9,166.13" fill="#2a6fb8" fill-opacity="0.32"/>
<polygon points="498.9,166.51 500.38,166.18 501.87,165.86 503.36,165.54 504.85,165.22 506.33,164.91 507.82,164.6 509.31,164.29 510.8,163.98 512.28,163.68 513.77,163.38 515.26,163.08 516.75,162.78 518.23,162.48 519.72,162.18 521.21,161.88 522.7,161.58 524.19,161.28 525.67,160.99 527.16,160.69 528.65,160.39 530.14,160.09 531.62,159.79 533.11,159.48 534.6,159.18 536.09,158.87 537.57,158.57 539.06,158.25 540.55,157.94 542.04,157.62 543.52,157.31 543.52,147.79 542.04,148.54 540.55,149.29 539.06,150.02 537.57,150.75 536.09,151.48 534.6,152.19 533.11,152.9 531.62,153.6 530.14,154.29 528.65,154.97 527.16,155.65 525.67,156.31 524.19,156.96 522.7,157.6 521.21,158.23 519.72,158.85 518.23,159.46 516.75,160.06 515.26,160.64 513.77,161.22 512.28,161.78 510.8,162.32 509.31,162.86 507.82,163.38 506.33,163.88 504.85,164.38 503.36,164.85 501.87,165.32 500.38,165.76 498.9,166.19" fill="#8a2be2" fill-opacity="0.2"/>
<line x1="321.27" y1="188.8" x2="543.52" y2="164.42" stroke="#000" stroke-width="1.2"/>
<line x1="458.73" y1="175.72" x2="543.52" y2="158.63" stroke="#a52a2a" stroke-width="1.1"/>
<line x1="473.6" y1="175.38" x2="543.52" y2="150.95" stroke="#f00" stroke-width="1.2"/>
<polyline points="498.9,166.27 500.38,165.88 501.87,165.5 503.36,165.11 504.85,164.72 506.33,164.33 507.82,163.93 509.31,163.53 510.8,163.12 512.28,162.71 513.77,162.29 515.26,161.85 516.75,161.41 518.23,160.95 519.72,160.48 521.21,159.99 522.7,159.49 524.19,158.97 525.67,158.44 527.16,157.88 528.65,157.31 530.14,156.71 531.62,156.09 533.11,155.44 534.6,154.77 536.09,154.07 537.57,153.35 539.06,152.59 540.55,151.81 542.04,150.99 543.52,150.14" fill="none" stroke="#008000" stroke-width="1.2" stroke-dasharray="4.1 1.5"/>
<polyline points="498.9,166.27 500.38,165.91 501.87,165.55 503.36,165.19 504.85,164.83 506.33,164.47 507.82,164.11 509.31,163.75 510.8,163.38 512.28,163.02 513.77,162.64 515.26,162.26 516.75,161.88 518.23,161.49 519.72,161.09 521.21,160.68 522.7,160.27 524.19,159.84 525.67,159.4 527.16,158.95 528.65,158.49 530.14,158.02 531.62,157.53 533.11,157.03 534.6,156.51 536.09,155.98 537.57,155.42 539.06,154.86 540.55,154.27 542.04,153.66 543.52,153.03" fill="none" stroke="#0000ff" stroke-width="1.2" stroke-dasharray="4.1 1.5"/>
<polyline points="498.9,166.27 500.38,165.93 501.87,165.59 503.36,165.25 504.85,164.92 506.33,164.58 507.82,164.25 509.31,163.92 510.8,163.59 512.28,163.25 513.77,162.92 515.26,162.58 516.75,162.25 518.23,161.91 519.72,161.56 521.21,161.22 522.7,160.87 524.19,160.51 525.67,160.15 527.16,159.79 528.65,159.42 530.14,159.04 531.62,158.66 533.11,158.26 534.6,157.86 536.09,157.46 537.57,157.04 539.06,156.62 540.55,156.18 542.04,155.74 543.52,155.28" fill="none" stroke="#9400d3" stroke-width="1.2" stroke-dasharray="4.1 1.5"/>
</g>
<text x="301" y="198.45" font-size="5.7" text-anchor="end" fill="#1a1a1a" stroke="#1a1a1a" stroke-width="0.08">−500</text>
<text x="301" y="174.74" font-size="5.7" text-anchor="end" fill="#1a1a1a" stroke="#1a1a1a" stroke-width="0.08">0</text>
<text x="301" y="151.02" font-size="5.7" text-anchor="end" fill="#1a1a1a" stroke="#1a1a1a" stroke-width="0.08">500</text>
<text x="301" y="127.31" font-size="5.7" text-anchor="end" fill="#1a1a1a" stroke="#1a1a1a" stroke-width="0.08">1000</text>
<path d="M305.5 115.9H546.5V196.15H305.5ZM303.1 196.15H305.5M303.1 172.44H305.5M303.1 148.72H305.5M303.1 125.01H305.5M320.38 196.15V198.55M350.13 196.15V198.55M379.88 196.15V198.55M409.64 196.15V198.55M439.39 196.15V198.55M469.14 196.15V198.55M498.9 196.15V198.55M528.65 196.15V198.55" stroke="#6a6a6a" stroke-width="1" fill="none"/>
<text x="426" y="112.3" font-size="9.25" text-anchor="middle" fill="#000" stroke="#000" stroke-width="0.06">Charleston</text>
<text x="308.2" y="125.53" font-size="7.56" fill="#000" stroke="#000" stroke-width="0.14" xml:space="preserve" style="white-space:pre">1901-2022:  3.44+-0.01 mm/yr</text>
<text x="443.87" y="125.53" font-size="7.56" fill="#000" stroke="#000" stroke-width="0.14" xml:space="preserve" style="white-space:pre">SL at 2050  169+- 1 mm</text>
<text x="308.2" y="135.16" font-size="7.56" fill="#a52a2a" stroke="#a52a2a" stroke-width="0.14" xml:space="preserve" style="white-space:pre">1993-2022:  6.32+-0.43 mm/yr</text>
<text x="443.87" y="135.16" font-size="7.56" fill="#a52a2a" stroke="#a52a2a" stroke-width="0.14" xml:space="preserve" style="white-space:pre">SL at 2050  291+-13 mm</text>
<text x="308.2" y="144.79" font-size="7.56" fill="#dc2024" stroke="#dc2024" stroke-width="0.14" xml:space="preserve" style="white-space:pre">2003-2022:  10.96+-1.40 mm/yr</text>
<text x="443.87" y="144.79" font-size="7.56" fill="#dc2024" stroke="#dc2024" stroke-width="0.14" xml:space="preserve" style="white-space:pre">SL at 2050  453+-42 mm</text>
</g>
<g id="c20">
<clipPath id="kc20"><rect x="37.5" y="216.5" width="241" height="80.2"/></clipPath>
<g clip-path="url(#kc20)">
<path d="M104.84 284.3L104.96 284.29L105.08 281.64L105.21 281.3L105.33 275.79L105.46 275.7L105.58 276.97L105.7 278.99L105.83 281.25L105.95 285.18L106.08 288.45L106.2 290.2L106.32 287.72L106.45 287.09L106.57 283.18L106.7 279.57L106.82 280.2L106.94 274.94L107.07 276.57L107.19 278.61L107.32 281.26L107.44 285.55L107.56 285.27L107.69 288.34L107.81 288.19L107.94 286.41L108.06 282.47L108.18 278.8L108.31 278.26L108.43 278.36L108.56 275.24L108.68 279.9L108.8 279.53L108.93 284.71L109.05 288.53L109.18 289.85L109.3 287.82L109.42 284.91L109.55 282.91L109.67 278.54L109.8 274.89L109.92 277.18L110.04 278.91L110.17 280.41L110.29 283.44L110.42 285.49L110.54 288.33L110.66 290.63L110.79 287.42L110.91 290.35L111.04 285.22L111.16 275.55L111.28 273.37L111.41 273L111.53 273.26L111.65 274.14L111.78 280.6L111.9 284.84L112.03 289.41L112.15 288.76L112.27 289.45L112.4 287.58L112.52 284.8L112.65 280.69L112.77 278.74L112.89 275.78L113.02 279.7L113.14 279.81L113.27 279.53L113.39 285.26L113.51 285.95L113.64 287.1L113.76 286.38L113.89 285.34L114.01 285.52L114.13 280.52L114.26 277.79L114.38 277.69L114.51 276.57L114.63 279.76L114.75 283.73L114.88 284.76L115 287.94L115.13 290.18L115.25 290.67L115.37 291.37L115.5 291.81L115.62 291.37L115.75 290.67L115.87 275.09L115.99 274.3L116.12 276.27L116.24 279.74L116.37 284.82L116.49 287.6L116.61 287.41L116.74 287.78L116.86 285.33L116.99 285.49L117.11 281.73L117.23 274.14L117.36 272.89L117.48 272.95L117.61 275.34L117.73 279.87L117.85 283.74L117.98 288.37L118.1 286.54L118.23 288.01L118.35 284.49L118.47 281.82L118.6 278.69L118.72 275.58L118.85 276.27L118.97 276.62L119.09 279.05L119.22 280.97L119.34 281.24L119.47 286.25L119.59 285.33L119.71 285.27L119.84 283.21L119.96 279.74L120.08 278.08L120.21 272.3L120.33 270.57L120.46 272.17L120.58 273.7L120.7 289.05L120.83 289.96L120.95 290.54L121.08 289.96L121.2 289.05L121.32 285.31L121.45 276.39L121.57 273.58L121.7 270.85L121.82 269.07L121.94 271.03L122.07 273.35L122.19 275.68L122.32 279.48L122.44 282.6L122.56 285.16L122.69 285.49L122.81 282.3L122.94 276.25L123.06 272L123.18 272L123.31 270.83L123.43 268.53L123.56 271.31L123.68 274.3L123.8 281.3L123.93 283.54L124.05 285.1L124.18 284.01L124.3 284.25L124.42 275.62L124.55 272.89L124.67 269.36L124.8 270.31L124.92 269.15L125.04 269.74L125.17 278.49L125.29 279.2L125.42 281.36L125.54 285.01L125.66 282.2L125.79 282.05L125.91 276.26L126.04 273.2L126.16 270.09L126.28 267.48L126.41 267.86L126.53 269.89L126.66 278.74L126.78 282.7L126.9 284.07L127.03 285.94L127.15 287.1L127.28 282.55L127.4 281.31L127.52 274.09L127.65 272.71L127.77 268.14L127.9 270.4L128.02 273.83L128.14 277.26L128.27 278.33L128.39 286.91L128.51 287.78L128.64 284.17L128.76 284.4L128.89 276.57L129.01 275.1L129.13 271.87L129.26 269.8L129.38 268.45L129.51 272.69L129.63 276.94L129.75 281.15L129.88 287.04L130 287.16L130.13 282.65L130.25 268.6L130.37 267.73L130.5 267.19L130.62 267.73L130.75 268.6L130.87 274.48L130.99 274.61L131.12 279.74L131.24 282.62L131.37 284.53L131.49 287.24L131.61 285.21L131.74 283.33L131.86 280.13L131.99 274.62L132.11 275.8L132.23 274.53L132.36 271.84L132.48 273.94L132.61 276.1L132.73 281.04L132.85 283.14L132.98 286.55L133.1 283.85L133.23 282.29L133.35 282.17L133.47 279.32L133.6 276.09L133.72 274.46L133.85 279.24L133.97 276.69L134.09 279L134.22 283.4L134.34 286.14L134.47 287.51L134.59 288.47L134.71 284.37L134.84 281.28L134.96 278.19L135.09 273.21L135.21 270.92L135.33 274.68L135.46 277.5L135.58 281.36L135.71 279.47L135.83 285.81L135.95 286.92L136.08 287.6L136.2 285.62L136.33 269.68L136.45 268.93L136.57 268.46L136.7 268.93L136.82 269.68L136.94 275.79L137.07 278.56L137.19 281.66L137.32 282.87L137.44 283.72L137.56 290.66L137.69 292.54L137.81 293.72L137.94 292.54L138.06 290.66L138.18 267.19L138.31 267.67L138.43 268.43L138.56 281.32L138.68 280.18L138.8 283.2L138.93 285.42L139.05 285.24L139.18 285.65L139.3 279.46L139.42 274.15L139.55 269.67L139.67 270.39L139.8 271.51L139.92 275.89L140.04 276.43L140.17 279.09L140.29 285.27L140.42 284.94L140.54 284.82L140.66 284.01L140.79 269.79L140.91 268.97L141.04 268.46L141.16 268.97L141.28 269.79L141.41 280.89L141.53 276.92L141.66 281.2L141.78 284.27L141.9 285.78L142.03 285.76L142.15 283.02L142.28 280.51L142.4 277.26L142.52 274.45L142.65 273.1L142.77 271.72L142.9 277.5L143.02 278.18L143.14 282.5L143.27 285.78L143.39 287.3L143.52 284.47L143.64 284.75L143.76 281.51L143.89 276.19L144.01 275.28L144.14 272.26L144.26 272.95L144.38 274.19L144.51 277.69L144.63 284.25L144.76 284.67L144.88 287.65L145 286.83L145.13 284.95L145.25 279.78L145.38 279.13L145.5 273.95L145.62 271.06L145.75 273.76L145.87 272.31L145.99 280.12L146.12 283.16L146.24 288.16L146.37 289.38L146.49 289.42L146.61 286.58L146.74 281.34L146.86 278.12L146.99 271.99L147.11 269.8L147.23 268.59L147.36 267.83L147.48 268.59L147.61 269.8L147.73 283.77L147.85 287.46L147.98 288.11L148.1 285.36L148.23 284.65L148.35 275.53L148.47 274.53L148.6 271.35L148.72 271.95L148.85 273.06L148.97 275.15L149.09 280.36L149.22 282.55L149.34 286.24L149.47 284.66L149.59 282.08L149.71 282.39L149.84 272.86L149.96 273.58L150.09 272.85L150.21 270.84L150.33 271.4L150.46 279.63L150.58 283.4L150.71 281.07L150.83 286.68L150.95 287.96L151.08 284.75L151.2 277.45L151.33 275L151.45 271.18L151.57 270.26L151.7 270.01L151.82 273.72L151.95 279.61L152.07 280.82L152.19 286.61L152.32 286.6L152.44 283.05L152.57 282.21L152.69 278.8L152.81 274.57L152.94 270.26L153.06 268.94L153.19 272.6L153.31 272.99L153.43 274.67L153.56 279.58L153.68 284.45L153.81 285.56L153.93 287.38L154.05 283.63L154.18 277.03L154.3 275.45L154.42 272.98L154.55 270.61L154.67 270.3L154.8 273.04L154.92 277.79L155.04 283.33L155.17 284.85L155.29 285.18L155.42 288.25L155.54 285.04L155.66 276.99L155.79 277.71L155.91 273.17L156.04 271.37L156.16 270.88L156.28 273.89L156.41 278.3L156.53 280.15L156.66 286.01L156.78 287.73L156.9 287.64L157.03 280.87L157.15 281.29L157.28 272.98L157.4 268.83L157.52 267.09L157.65 269.05L157.77 272.52L157.9 275.74L158.02 281.6L158.14 286.55L158.27 283.96L158.39 286.89L158.52 279.31L158.64 276.98L158.76 273.72L158.89 268.42L159.01 266.96L159.14 270.7L159.26 273.03L159.38 277.66L159.51 279.62L159.63 282.1L159.76 284.01L159.88 284.67L160 282.28L160.13 276.73L160.25 273.6L160.38 272.51L160.5 273.39L160.62 271.3L160.75 273.66L160.87 276.35L161 277.45L161.12 280.49L161.24 282.8L161.37 282.08L161.49 278L161.62 276.65L161.74 273.91L161.86 269.22L161.99 266.01L162.11 264.01L162.24 266.01L162.36 269.22L162.48 278.51L162.61 279.48L162.73 280.43L162.85 279.93L162.98 278.5L163.1 276.45L163.23 276.14L163.35 275.43L163.47 274.62L163.6 275.07L163.72 276.5L163.85 283.97L163.97 284.88L164.09 285.45L164.22 284.88L164.34 283.97L164.47 281.62L164.59 278.97L164.71 277.58L164.84 274.13L164.96 274.18L165.09 274.44L165.21 276.84L165.33 279.11L165.46 280.64L165.58 284.41L165.71 284.11L165.83 285.64L165.95 282.67L166.08 279.26L166.2 277.15L166.33 275.47L166.45 273.27L166.57 275.7L166.7 277.44L166.82 278.63L166.95 280.56L167.07 284.3L167.19 286.5L167.32 285.48L167.44 283.12L167.57 281.92L167.69 280.75L167.81 275.87L167.94 275.31L168.06 274.56L168.19 277.28L168.31 279.68L168.43 281.1L168.56 283.95L168.68 285.2L168.81 282.62L168.93 283.29L169.05 280.34L169.18 276.02L169.3 270.89L169.43 269.4L169.55 268.46L169.67 269.4L169.8 270.89L169.92 280.13L170.05 281.97L170.17 284.62L170.29 283.69L170.42 283.13L170.54 278.9L170.67 275.82L170.79 274.25L170.91 271.67L171.04 271.09L171.16 276.31L171.29 276.78L171.41 280.24L171.53 283.1L171.66 286.22L171.78 284.11L171.9 282.71L172.03 280.49L172.15 277.69L172.28 274.68L172.4 273.19L172.52 273.55L172.65 273.95L172.77 279.75L172.9 281.27L173.02 284.62L173.14 284.09L173.27 284.36L173.39 283.34L173.52 281.37L173.64 276.92L173.76 272.37L173.89 270.95L174.01 270.69L174.14 275.03L174.26 277.55L174.38 280.54L174.51 283.67L174.63 284.72L174.76 283.04L174.88 281.19L175 278.55L175.13 276.04L175.25 270.45L175.38 270.53L175.5 268.78L175.62 270.41L175.75 276.3L175.87 278.03L176 281L176.12 279.14L176.24 280.77L176.37 282.06L176.49 275.45L176.62 272.1L176.74 270.28L176.86 269.18L176.99 268.11L177.11 270.08L177.24 273.63L177.36 279.42L177.48 281.21L177.61 284.27L177.73 284.11L177.86 280.52L177.98 278.01L178.1 272.76L178.23 266.6L178.35 266.69L178.48 269L178.6 273.84L178.72 276.16L178.85 280.86L178.97 284.8L179.1 281.74L179.22 283L179.34 279.45L179.47 272.31L179.59 265.41L179.72 263.37L179.84 262.1L179.96 263.37L180.09 265.41L180.21 275.36L180.33 276.13L180.46 280.19L180.58 282.65L180.71 282.02L180.83 280.01L180.95 276.07L181.08 271.8L181.2 268.7L181.33 267.19L181.45 268.66L181.57 269.65L181.7 273.99L181.82 276.7L181.95 282.37L182.07 279.54L182.19 282.77L182.32 280.58L182.44 275.74L182.57 274.74L182.69 270.29L182.81 271.48L182.94 273.4L183.06 273.66L183.19 276.58L183.31 276.79L183.43 278.82L183.56 281.01L183.68 282.18L183.81 279.95L183.93 276.12L184.05 275.52L184.18 272.97L184.3 269.44L184.43 269.96L184.55 273.33L184.67 276.52L184.8 281.83L184.92 279.47L185.05 282.32L185.17 283.77L185.29 281.67L185.42 278.85L185.54 272.6L185.67 271.93L185.79 273.74L185.91 269.78L186.04 272.12L186.16 277.76L186.29 283.05L186.41 280.79L186.53 284.16L186.66 282.98L186.78 281.26L186.91 275.28L187.03 270.81L187.15 268.26L187.28 267.84L187.4 267.58L187.53 269.48L187.65 276.68L187.77 276.1L187.9 281.36L188.02 281.78L188.15 281.35L188.27 277.74L188.39 273.89L188.52 267.77L188.64 268.13L188.76 267.2L188.89 266.09L189.01 269.93L189.14 271.6L189.26 277.28L189.38 277.96L189.51 277.79L189.63 277.36L189.76 276.94L189.88 272.47L190 269.65L190.13 271.89L190.25 267.49L190.38 268.27L190.5 271.06L190.62 274.65L190.75 276.87L190.87 278.99L191 280.49L191.12 278.37L191.24 276.99L191.37 276.52L191.49 273L191.62 267.26L191.74 268.26L191.86 267.48L191.99 269.53L192.11 272.46L192.24 277.88L192.36 280.2L192.48 284.75L192.61 282.68L192.73 281.82L192.86 276.02L192.98 272.31L193.1 271.18L193.23 272.47L193.35 267.3L193.48 270.31L193.6 273.79L193.72 278.21L193.85 280.04L193.97 279.91L194.1 280.08L194.22 276.36L194.34 263.66L194.47 261.53L194.59 260.19L194.72 261.53L194.84 263.66L194.96 272.41L195.09 273.56L195.21 275.57L195.34 279.85L195.46 280.08L195.58 278.62L195.71 277.21L195.83 271.73L195.96 271.16L196.08 268.29L196.2 266.97L196.33 270.03L196.45 271.64L196.58 272.12L196.7 277.34L196.82 278.29L196.95 281.94L197.07 281.55L197.19 277.38L197.32 274.62L197.44 269.76L197.57 271.32L197.69 268.31L197.81 268.43L197.94 270.27L198.06 271.93L198.19 274.65L198.31 277.89L198.43 279.51L198.56 277.2L198.68 276.8L198.81 273.46L198.93 269.86L199.05 268.44L199.18 268.27L199.3 267.79L199.43 268.53L199.55 273.09L199.67 274.4L199.8 278.31L199.92 279.39L200.05 280L200.17 277.28L200.29 272.49L200.42 271.29L200.54 263.57L200.67 262.28L200.79 261.46L200.91 262.28L201.04 263.57L201.16 275.3L201.29 278.06L201.41 282.45L201.53 280.08L201.66 282.16L201.78 273.5L201.91 270.14L202.03 269.46L202.15 268.84L202.28 267.23L202.4 268.46L202.53 272.15L202.65 276.01L202.77 277.41L202.9 278.8L203.02 282.12L203.15 278.42L203.27 275.67L203.39 269.53L203.52 269.58L203.64 265.6L203.77 267.75L203.89 265.82L204.01 273.27L204.14 276.54L204.26 279.41L204.39 280.2L204.51 275.71L204.63 278.77L204.76 276.31L204.88 272.04L205.01 268.14L205.13 269.85L205.25 267.2L205.38 269.08L205.5 273.4L205.63 277.95L205.75 282.69L205.87 283.52L206 283.42L206.12 277.24L206.24 272.05L206.37 271.38L206.49 268.25L206.62 269.94L206.74 268.22L206.86 268.91L206.99 272.1L207.11 276.28L207.24 278.42L207.36 281.08L207.48 281.16L207.61 275.57L207.73 277.03L207.86 272.31L207.98 269L208.1 267.73L208.23 268.28L208.35 269.51L208.48 273.23L208.6 275.41L208.72 276.91L208.85 278.83L208.97 278.18L209.1 277.71L209.22 275.03L209.34 263.14L209.47 261.72L209.59 260.83L209.72 261.72L209.84 263.14L209.96 270.04L210.09 276.22L210.21 276.08L210.34 277.97L210.46 275.7L210.58 275.61L210.71 272.86L210.83 269.71L210.96 266.11L211.08 266.93L211.2 265.48L211.33 267.51L211.45 269.69L211.58 275.01L211.7 276.18L211.82 274.96L211.95 277.51L212.07 273.96L212.2 273.05L212.32 269.44L212.44 266.24L212.57 264.54L212.69 266.63L212.82 269.12L212.94 268.8L213.06 273.76L213.19 275.76L213.31 276.85L213.44 276.46L213.56 275.43L213.68 263.02L213.81 262.23L213.93 261.74L214.06 262.23L214.18 263.02L214.3 264.72L214.43 268.74L214.55 272.81L214.67 277.2L214.8 276.04L214.92 274.48L215.05 274.97L215.17 269.95L215.29 267.89L215.42 265.1L215.54 264.39L215.67 266.47L215.79 267.33L215.91 271.56L216.04 270.73L216.16 272.9L216.29 274.85L216.41 274.42L216.53 273.53L216.66 271.7L216.78 269.02L216.91 267L217.03 265.67L217.15 267.13L217.28 268.48L217.4 270.72L217.53 272.46L217.65 275.02L217.77 273.57L217.9 275.26L218.02 273.7L218.15 270.3L218.27 267.08L218.39 264.15L218.52 263.99L218.64 265.84L218.77 266.81L218.89 267.71L219.01 270.82L219.14 271.98L219.26 273.76L219.39 271.5L219.51 270.11L219.63 268.14L219.76 266.07L219.88 265.36L220.01 263.71L220.13 262.14L220.25 263.71L220.38 270.78L220.5 270.78L220.63 271.03L220.75 272.22L220.87 273.4L221 270.29L221.12 268.3L221.25 265.72L221.37 261.88L221.49 260.71L221.62 262.94L221.74 265.16L221.87 268.34L221.99 271.91L222.11 271.4L222.24 272.21L222.36 274.02L222.49 270.74L222.61 269.62L222.73 265.11L222.86 260.73L222.98 260.06L223.1 261.03L223.23 265.74L223.35 268.96L223.48 271.33L223.6 274.61L223.72 275.32L223.85 275.46L223.97 272.33L224.1 268.21L224.22 257.9L224.34 256.74L224.47 256.01L224.59 256.74L224.72 257.9L224.84 276.28L224.96 277.39L225.09 278.08L225.21 277.39L225.34 276.28L225.46 268.86L225.58 268.26L225.71 258.09L225.83 257.2L225.96 256.65L226.08 257.2L226.2 258.09L226.33 264.77L226.45 269.48L226.58 272.64L226.7 275.23L226.82 272.44L226.95 271.09L227.07 267.88L227.2 264.81L227.32 262.11L227.44 260.06L227.57 259.41L227.69 261.11L227.82 265.74L227.94 268.46L228.06 271.37L228.19 272.22L228.31 273.06L228.44 268.61L228.56 266.31L228.68 262.5L228.81 262.42L228.93 260.7L229.06 262.21L229.18 262.81L229.3 265.45L229.43 266.97L229.55 269.58L229.68 269.67L229.8 270.44L229.92 267.77L230.05 266.28L230.17 264.24L230.3 261.98L230.42 260.76L230.54 262.85L230.67 264.11L230.79 264.04L230.92 267.16L231.04 271.59L231.16 271.54L231.29 271.1L231.41 267.86L231.54 265L231.66 261.64L231.78 259.68L231.91 257.46L232.03 262.03L232.15 261.73L232.28 262.45L232.4 268.08L232.53 270.92L232.65 270.4L232.77 268.97L232.9 266.81L233.02 267.24L233.15 264.06L233.27 260.94L233.39 260.58L233.52 260L233.64 261.73L233.77 262.15L233.89 266.88L234.01 268.7L234.14 269.83L234.26 268.23L234.39 269.1L234.51 264.67L234.63 263.32L234.76 261.92L234.88 257.62L235.01 258.68L235.13 259.16L235.25 263.06L235.38 265.54L235.5 268.67L235.63 269.3" fill="none" stroke="#1f77b4" stroke-width="1.0" stroke-linejoin="round"/>
<polygon points="230.9,266.98 232.38,266.59 233.87,266.2 235.36,265.82 236.85,265.43 238.33,265.05 239.82,264.67 241.31,264.29 242.8,263.9 244.28,263.52 245.77,263.14 247.26,262.76 248.75,262.38 250.23,261.99 251.72,261.61 253.21,261.22 254.7,260.84 256.19,260.45 257.67,260.06 259.16,259.67 260.65,259.27 262.14,258.88 263.62,258.48 265.11,258.07 266.6,257.67 268.09,257.26 269.57,256.85 271.06,256.43 272.55,256.01 274.04,255.59 275.52,255.16 275.52,243.14 274.04,244.13 272.55,245.11 271.06,246.08 269.57,247.04 268.09,247.98 266.6,248.92 265.11,249.84 263.62,250.75 262.14,251.64 260.65,252.52 259.16,253.39 257.67,254.24 256.19,255.08 254.7,255.9 253.21,256.71 251.72,257.5 250.23,258.27 248.75,259.03 247.26,259.77 245.77,260.49 244.28,261.19 242.8,261.87 241.31,262.53 239.82,263.18 238.33,263.8 236.85,264.4 235.36,264.99 233.87,265.55 232.38,266.09 230.9,266.6" fill="#2e8b2e" fill-opacity="0.2"/>
<polygon points="230.9,267.03 232.38,266.65 233.87,266.29 235.36,265.92 236.85,265.56 238.33,265.21 239.82,264.85 241.31,264.5 242.8,264.16 244.28,263.81 245.77,263.47 247.26,263.13 248.75,262.8 250.23,262.46 251.72,262.12 253.21,261.79 254.7,261.45 256.19,261.12 257.67,260.79 259.16,260.45 260.65,260.12 262.14,259.78 263.62,259.44 265.11,259.1 266.6,258.76 268.09,258.42 269.57,258.07 271.06,257.73 272.55,257.38 274.04,257.02 275.52,256.66 275.52,246.14 274.04,246.99 272.55,247.83 271.06,248.67 269.57,249.49 268.09,250.3 266.6,251.1 265.11,251.9 263.62,252.68 262.14,253.45 260.65,254.21 259.16,254.96 257.67,255.7 256.19,256.42 254.7,257.14 253.21,257.84 251.72,258.53 250.23,259.2 248.75,259.87 247.26,260.51 245.77,261.15 244.28,261.77 242.8,262.38 241.31,262.97 239.82,263.55 238.33,264.11 236.85,264.66 235.36,265.19 233.87,265.71 232.38,266.21 230.9,266.7" fill="#2a6fb8" fill-opacity="0.32"/>
<polygon points="230.9,267.08 232.38,266.72 233.87,266.37 235.36,266.03 236.85,265.69 238.33,265.36 239.82,265.04 241.31,264.72 242.8,264.41 244.28,264.11 245.77,263.8 247.26,263.51 248.75,263.21 250.23,262.92 251.72,262.64 253.21,262.35 254.7,262.07 256.19,261.79 257.67,261.51 259.16,261.24 260.65,260.96 262.14,260.69 263.62,260.41 265.11,260.13 266.6,259.86 268.09,259.58 269.57,259.3 271.06,259.02 272.55,258.74 274.04,258.45 275.52,258.16 275.52,248.25 274.04,249 272.55,249.74 271.06,250.48 269.57,251.21 268.09,251.93 266.6,252.64 265.11,253.34 263.62,254.03 262.14,254.72 260.65,255.39 259.16,256.06 257.67,256.72 256.19,257.36 254.7,258 253.21,258.63 251.72,259.25 250.23,259.85 248.75,260.45 247.26,261.04 245.77,261.61 244.28,262.18 242.8,262.74 241.31,263.28 239.82,263.81 238.33,264.33 236.85,264.84 235.36,265.34 233.87,265.83 232.38,266.3 230.9,266.76" fill="#8a2be2" fill-opacity="0.2"/>
<line x1="104.44" y1="283.85" x2="275.52" y2="264.66" stroke="#000" stroke-width="1.2"/>
<line x1="190.73" y1="276" x2="275.52" y2="259.11" stroke="#a52a2a" stroke-width="1.1"/>
<line x1="205.6" y1="275.52" x2="275.52" y2="251.86" stroke="#f00" stroke-width="1.2"/>
<polyline points="230.9,266.84 232.38,266.39 233.87,265.95 235.36,265.52 236.85,265.1 238.33,264.68 239.82,264.26 241.31,263.84 242.8,263.42 244.28,263 245.77,262.57 247.26,262.14 248.75,261.7 250.23,261.25 251.72,260.79 253.21,260.31 254.7,259.83 256.19,259.32 257.67,258.8 259.16,258.25 260.65,257.69 262.14,257.1 263.62,256.49 265.11,255.85 266.6,255.18 268.09,254.48 269.57,253.76 271.06,252.99 272.55,252.19 274.04,251.36 275.52,250.49" fill="none" stroke="#008000" stroke-width="1.2" stroke-dasharray="4.1 1.5"/>
<polyline points="230.9,266.84 232.38,266.43 233.87,266.03 235.36,265.64 236.85,265.26 238.33,264.88 239.82,264.5 241.31,264.13 242.8,263.76 244.28,263.39 245.77,263.02 247.26,262.65 248.75,262.28 250.23,261.9 251.72,261.52 253.21,261.13 254.7,260.73 256.19,260.33 257.67,259.91 259.16,259.49 260.65,259.06 262.14,258.61 263.62,258.15 265.11,257.67 266.6,257.18 268.09,256.67 269.57,256.15 271.06,255.6 272.55,255.04 274.04,254.45 275.52,253.84" fill="none" stroke="#0000ff" stroke-width="1.2" stroke-dasharray="4.1 1.5"/>
<polyline points="230.9,266.84 232.38,266.45 233.87,266.08 235.36,265.71 236.85,265.34 238.33,264.99 239.82,264.63 241.31,264.29 242.8,263.94 244.28,263.6 245.77,263.26 247.26,262.92 248.75,262.58 250.23,262.24 251.72,261.9 253.21,261.56 254.7,261.21 256.19,260.87 257.67,260.51 259.16,260.15 260.65,259.79 262.14,259.42 263.62,259.04 265.11,258.65 266.6,258.25 268.09,257.84 269.57,257.43 271.06,257 272.55,256.55 274.04,256.1 275.52,255.63" fill="none" stroke="#9400d3" stroke-width="1.2" stroke-dasharray="4.1 1.5"/>
</g>
<text x="33" y="299" font-size="5.7" text-anchor="end" fill="#1a1a1a" stroke="#1a1a1a" stroke-width="0.08">−500</text>
<text x="33" y="275.3" font-size="5.7" text-anchor="end" fill="#1a1a1a" stroke="#1a1a1a" stroke-width="0.08">0</text>
<text x="33" y="251.6" font-size="5.7" text-anchor="end" fill="#1a1a1a" stroke="#1a1a1a" stroke-width="0.08">500</text>
<text x="33" y="227.9" font-size="5.7" text-anchor="end" fill="#1a1a1a" stroke="#1a1a1a" stroke-width="0.08">1000</text>
<text x="52.38" y="305" font-size="5.7" text-anchor="middle" fill="#1a1a1a" stroke="#1a1a1a" stroke-width="0.08">1900</text>
<text x="82.13" y="305" font-size="5.7" text-anchor="middle" fill="#1a1a1a" stroke="#1a1a1a" stroke-width="0.08">1920</text>
<text x="111.88" y="305" font-size="5.7" text-anchor="middle" fill="#1a1a1a" stroke="#1a1a1a" stroke-width="0.08">1940</text>
<text x="141.64" y="305" font-size="5.7" text-anchor="middle" fill="#1a1a1a" stroke="#1a1a1a" stroke-width="0.08">1960</text>
<text x="171.39" y="305" font-size="5.7" text-anchor="middle" fill="#1a1a1a" stroke="#1a1a1a" stroke-width="0.08">1980</text>
<text x="201.14" y="305" font-size="5.7" text-anchor="middle" fill="#1a1a1a" stroke="#1a1a1a" stroke-width="0.08">2000</text>
<text x="230.9" y="305" font-size="5.7" text-anchor="middle" fill="#1a1a1a" stroke="#1a1a1a" stroke-width="0.08">2020</text>
<text x="260.65" y="305" font-size="5.7" text-anchor="middle" fill="#1a1a1a" stroke="#1a1a1a" stroke-width="0.08">2040</text>
<path d="M37.5 216.5H278.5V296.7H37.5ZM35.1 296.7H37.5M35.1 273H37.5M35.1 249.3H37.5M35.1 225.6H37.5M52.38 296.7V299.1M82.13 296.7V299.1M111.88 296.7V299.1M141.64 296.7V299.1M171.39 296.7V299.1M201.14 296.7V299.1M230.9 296.7V299.1M260.65 296.7V299.1" stroke="#6a6a6a" stroke-width="1" fill="none"/>
<text x="158" y="212.9" font-size="9.25" text-anchor="middle" fill="#000" stroke="#000" stroke-width="0.06">Fort Pulaski</text>
<text x="40.2" y="226.12" font-size="7.56" fill="#000" stroke="#000" stroke-width="0.14" xml:space="preserve" style="white-space:pre">1935-2022:  3.52+-0.02 mm/yr</text>
<text x="175.87" y="226.12" font-size="7.56" fill="#000" stroke="#000" stroke-width="0.14" xml:space="preserve" style="white-space:pre">SL at 2050  176+- 1 mm</text>
<text x="40.2" y="235.75" font-size="7.56" fill="#a52a2a" stroke="#a52a2a" stroke-width="0.14" xml:space="preserve" style="white-space:pre">1993-2022:  6.25+-0.49 mm/yr</text>
<text x="175.87" y="235.75" font-size="7.56" fill="#a52a2a" stroke="#a52a2a" stroke-width="0.14" xml:space="preserve" style="white-space:pre">SL at 2050  293+-15 mm</text>
<text x="40.2" y="245.37" font-size="7.56" fill="#dc2024" stroke="#dc2024" stroke-width="0.14" xml:space="preserve" style="white-space:pre">2003-2022:  10.62+-1.59 mm/yr</text>
<text x="175.87" y="245.37" font-size="7.56" fill="#dc2024" stroke="#dc2024" stroke-width="0.14" xml:space="preserve" style="white-space:pre">SL at 2050  446+-48 mm</text>
<text x="158" y="315.7" font-size="9.4" text-anchor="middle" fill="#000" stroke="#000" stroke-width="0.06">time(years)</text>
</g>
<g id="c21">
<clipPath id="kc21"><rect x="305.5" y="216.5" width="241" height="80.2"/></clipPath>
<g clip-path="url(#kc21)">
<path d="M316.11 286.81L316.23 286.59L316.36 285.61L316.48 280.94L316.61 278.03L316.73 266.63L316.85 265.86L316.98 265.37L317.1 265.86L317.22 266.63L317.35 281.84L317.47 284.83L317.6 285.42L317.72 289.28L317.84 289.26L317.97 282.56L318.09 278.54L318.22 271.74L318.34 271.83L318.46 268.86L318.59 269.77L318.71 273.13L318.84 282.73L318.96 283.28L319.08 291.19L319.21 291.14L319.33 290.51L319.46 284.04L319.58 279.8L319.7 274.9L319.83 272.53L319.95 272.36L320.08 274.79L320.2 273.95L320.32 285.08L320.45 287.06L320.57 287.16L320.7 289.19L320.82 290.48L320.94 284.81L321.07 281.46L321.19 281.43L321.32 273.29L321.44 271.97L321.56 273.35L321.69 279.32L321.81 281.65L321.94 288L322.06 288.24L322.18 290.43L322.31 286.8L322.43 284.91L322.56 269.15L322.68 268L322.8 267.28L322.93 268L323.05 269.15L323.18 275.67L323.3 281.94L323.42 284.81L323.55 287.82L323.67 288.61L323.8 285.63L323.92 282.58L324.04 278.48L324.17 277.91L324.29 272.01L324.42 273.97L324.54 273.37L324.66 276.68L324.79 278.2L324.91 283.31L325.04 285.56L325.16 286.27L325.28 286.23L325.41 283.07L325.53 278.49L325.65 273.99L325.78 272.29L325.9 269.83L326.03 273.1L326.15 275.69L326.27 275.9L326.4 283.25L326.52 289.25L326.65 290.1L326.77 290.63L326.89 290.1L327.02 289.25L327.14 266.49L327.27 265.37L327.39 266.49L327.51 268.27L327.64 276.68L327.76 278.46L327.89 284.09L328.01 288.56L328.13 288.74L328.26 286.46L328.38 280.91L328.51 273.67L328.63 273.75L328.75 271.14L328.88 269.76L329 272.03L329.13 274.48L329.25 279.42L329.37 284.45L329.5 288.72L329.62 287.88L329.75 284.96L329.87 282.66L329.99 275.87L330.12 273.84L330.24 273.58L330.37 269.91L330.49 275.85L330.61 274.52L330.74 276.88L330.86 285.51L330.99 288.74L331.11 288.01L331.23 285.5L331.36 283.31L331.48 278.81L331.61 274.13L331.73 272.95L331.85 275.04L331.98 274.54L332.1 277.18L332.23 283.97L332.35 283.65L332.47 288.09L332.6 292L332.72 293.11L332.85 293.81L332.97 293.11L333.09 292L333.22 262.83L333.34 264.52L333.47 267.22L333.59 274.55L333.71 279.42L333.84 287.6L333.96 286.53L334.09 288.58L334.21 286.99L334.33 285.7L334.46 277.89L334.58 270.63L334.7 269.35L334.83 268.55L334.95 269.35L335.08 270.63L335.2 282.46L335.32 287.76L335.45 290.89L335.57 290.94L335.7 288.08L335.82 285.01L335.94 280.95L336.07 279.51L336.19 276.21L336.32 274.7L336.44 275.24L336.56 280.59L336.69 284.83L336.81 284.06L336.94 287.41L337.06 288.51L337.18 288.03L337.31 285.77L337.43 279.96L337.56 278.26L337.68 278.47L337.8 279.21L337.93 276.27L338.05 278.47L338.18 281.5L338.3 284.76L338.42 290.28L338.55 289.92L338.67 286.27L338.8 285.02L338.92 281.21L339.04 272.09L339.17 270.3L339.29 269.19L339.42 270.3L339.54 272.09L339.66 281.94L339.79 285.14L339.91 285.96L340.04 286.2L340.16 288.72L340.28 284.64L340.41 281.85L340.53 276.79L340.66 277.09L340.78 274.05L340.9 275.29L341.03 278.05L341.15 283.59L341.28 285.74L341.4 289.23L341.52 287.82L341.65 285.93L341.77 286.93L341.9 282.41L342.02 277.55L342.14 275.42L342.27 273.08L342.39 275.55L342.52 278.25L342.64 284.56L342.76 284.2L342.89 288.96L343.01 288.71L343.13 288.43L343.26 288.86L343.38 283.99L343.51 279.61L343.63 274.06L343.75 274.93L343.88 274.8L344 278.26L344.13 282.48L344.25 285.96L344.37 290.15L344.5 291.64L344.62 292.5L344.75 293.7L344.87 294.45L344.99 293.7L345.12 292.5L345.24 270.13L345.37 271.63L345.49 281.84L345.61 281.75L345.74 287.94L345.86 291.26L345.99 290.66L346.11 289.33L346.23 286.36L346.36 281.02L346.48 277.36L346.61 275.25L346.73 273.01L346.85 273.01L346.98 278.4L347.1 283.86L347.23 288.01L347.35 288.07L347.47 289.86L347.6 287.96L347.72 287.76L347.85 282.84L347.97 280.14L348.09 275.4L348.22 276.62L348.34 280.58L348.47 278.67L348.59 280.61L348.71 283.64L348.84 289.43L348.96 288.07L349.09 285.95L349.21 283.48L349.33 281.14L349.46 280.14L349.58 276.06L349.71 275.3L349.83 275.19L349.95 277.69L350.08 290.48L350.2 291.36L350.33 291.9L350.45 291.36L350.57 290.48L350.7 282.94L350.82 281.05L350.95 275.21L351.07 273.93L351.19 275.25L351.32 275.01L351.44 279.4L351.56 283.2L351.69 287.35L351.81 285.38L351.94 286.63L352.06 289.01L352.18 282.12L352.31 278.76L352.43 277.5L352.56 274.03L352.68 271.96L352.8 274.84L352.93 277.14L353.05 279.36L353.18 286.68L353.3 288.72L353.42 288.72L353.55 287.25L353.67 282.56L353.8 280.94L353.92 278.49L354.04 274.11L354.17 274.38L354.29 274.22L354.42 277.89L354.54 281.46L354.66 289.25L354.79 290.1L354.91 290.63L355.04 290.1L355.16 289.25L355.28 275.53L355.41 274.57L355.53 275.7L355.66 273.12L356.07 286.91L377.46 270.36L378.02 270.57L378.14 271.51L378.26 276.43L378.39 279.79L378.51 283.84L378.63 287.91L378.76 287.21L378.88 285.01L379.01 279.36L379.13 278.03L379.25 272.33L379.38 271.3L379.5 273.72L379.63 273.51L379.75 276.15L379.87 281.83L380 283.58L380.12 286.33L380.25 286.34L380.37 285.43L380.49 281.53L380.62 277.24L380.74 275.27L380.87 275.45L380.99 273.89L381.11 274.56L381.24 276.25L381.36 280.3L381.49 285.07L381.61 284.09L381.73 287.64L381.86 284.5L381.98 281.84L382.11 274.2L382.23 271.91L382.35 270.35L382.48 271.91L382.6 270.8L382.73 276.96L382.85 279.53L382.97 283.6L383.1 288.48L383.22 286.87L383.35 288.43L383.47 279.48L383.59 278.14L383.72 269.83L383.84 267.49L383.97 267.4L384.09 267.41L384.21 279.43L384.34 279.38L384.46 284.02L384.59 283.98L384.71 284.41L384.83 282.4L384.96 279.62L385.08 275.82L385.21 270.79L385.33 271.69L385.45 267.98L385.58 272.24L385.7 273.88L385.83 280.09L385.95 279.3L386.07 281.69L386.2 280.05L386.32 277.8L386.45 278.01L386.57 273.19L386.69 269.09L386.82 265.53L386.94 269.26L387.06 268.12L387.19 273.06L387.31 278.98L387.44 280.92L387.56 283.34L387.68 280.06L387.81 281.76L387.93 274.8L388.06 273.13L388.18 266.91L388.3 268.93L388.43 267.18L388.55 267.85L388.68 274L388.8 279.53L388.92 282.07L389.05 283.23L389.17 284.45L389.3 282.03L389.42 276.26L389.54 273.34L389.67 267.9L389.79 265.92L389.92 270.15L390.04 268.05L390.16 271.76L390.29 276.67L390.41 279.47L390.54 280.26L390.66 279.24L390.78 277.33L390.91 276.43L391.03 268.83L391.16 269.37L391.28 263.68L391.4 263.53L391.53 264.69L391.65 272.26L391.78 272.98L391.9 274.96L392.02 278.35L392.15 281.18L392.27 276.67L392.4 276.09L392.52 273.56L392.64 268.28L392.77 263.26L392.89 267.61L393.02 268.05L393.14 271.19L393.26 273.75L393.39 280.4L393.51 282.15L393.64 278.93L393.76 278.36L393.88 273.73L394.01 273.91L394.13 268.02L394.26 264.15L394.38 265.57L394.5 270.44L394.63 272.59L394.75 280.54L394.88 284.32L395 284.33L395.12 284.15L395.25 282.38L395.37 277.39L395.49 276.35L395.62 270.94L395.74 266.89L395.87 267.27L395.99 270.32L396.11 276.91L396.24 281.89L396.36 280.83L396.49 282.81L396.61 286.4L396.73 282.83L396.86 277.92L396.98 274.05L397.11 273.42L397.23 270.67L397.35 269.38L397.48 273.67L397.6 277.87L397.73 279.93L397.85 280.35L397.97 282.4L398.1 283.23L398.22 283.78L398.35 281.46L398.47 275.91L398.59 270.9L398.72 267.48L398.84 271.04L398.97 271.5L399.09 278.18L399.21 282.85L399.34 283.27L399.46 287.19L399.59 287.29L399.71 287.25L399.83 278.35L399.96 278.12L400.08 266.07L400.21 264.52L400.33 263.55L400.45 264.52L400.58 266.07L400.7 279.97L400.83 280.6L400.95 282.8L401.07 281.22L401.2 284.68L401.32 276.76L401.45 275.53L401.57 274.34L401.69 269.69L401.82 269.97L401.94 272.9L402.07 274.62L402.19 281.64L402.31 286.2L402.44 286.29L402.56 283.37L402.69 282.22L402.81 279.66L402.93 276.91L403.06 272.85L403.18 269.03L403.31 271.48L403.43 273.15L403.55 274.54L403.68 277.85L403.8 282.36L403.93 282.13L404.05 284.01L404.17 283.58L404.3 281.61L404.42 270.66L404.54 268.55L404.67 265.11L404.79 265.13L404.92 266.21L405.04 271.17L405.16 276.1L405.29 279.57L405.41 282.12L405.54 281.26L405.66 281.55L405.78 276.76L405.91 265.09L406.03 263.75L406.16 262.92L406.28 263.75L406.4 286.76L406.53 287.63L406.65 288.17L406.78 289.97L406.9 291.36L407.02 289.97L407.15 287.76L407.27 278.67L407.4 272.77L407.52 267.7L407.64 265.35L407.77 268.32L407.89 270.96L408.02 271.98L408.14 277.11L408.26 281.75L408.39 285.08L408.51 285.63L408.64 282.49L408.76 278.48L408.88 274.69L409.01 271.47L409.13 271L409.26 269.43L409.38 273.09L409.5 274.65L409.63 278.28L409.75 283.56L409.88 283.87L410 283.15L410.12 280.32L410.25 276.95L410.37 272.18L410.5 267.05L410.62 265.68L410.74 264.83L410.87 265.68L410.99 267.05L411.12 279.76L411.24 280.59L411.36 283.34L411.49 283.09L411.61 278.24L411.74 276.76L411.86 270.88L411.98 270.59L412.11 269.07L412.23 270.2L412.36 271.46L412.48 278.16L412.6 279.29L412.73 283.89L412.85 286.97L412.97 287.08L413.1 284.54L413.22 280.58L413.35 276.34L413.47 275.67L413.59 271.41L413.72 270.83L413.84 269.74L413.97 275.76L414.09 278.54L414.21 283.41L414.34 283.76L414.46 284.69L414.59 283.07L414.71 278.14L414.83 275.25L414.96 266.93L415.08 265.24L415.21 264.19L415.33 265.24L415.45 266.93L415.58 277.92L415.7 283.14L415.83 281.94L415.95 284.9L416.07 283.15L416.2 276L416.32 267.53L416.45 266.26L416.57 265.46L416.69 266.26L416.82 267.53L416.94 272.02L417.07 279.3L417.19 283.98L417.31 281.54L417.44 283.3L417.56 280.84L417.69 277.06L417.81 275.87L417.93 272.52L418.06 269.96L418.18 268.77L418.31 273.55L418.43 273.01L418.55 277.92L418.68 282.96L418.8 283.06L418.93 282.35L419.05 279.75L419.17 277.34L419.3 273.78L419.42 272.97L419.55 270.24L419.67 275.15L419.79 271.33L419.92 275.48L420.04 276.35L420.17 283.21L420.29 284.94L420.41 284.03L420.54 280.67L420.66 277.68L420.79 273.07L420.91 266.11L421.03 265.32L421.16 264.83L421.28 265.32L421.4 266.11L421.53 279.53L421.65 278.4L421.78 279.05L421.9 280.65L422.02 277.09L422.15 278.93L422.27 272.83L422.4 269.35L422.52 265.4L422.64 266.97L422.77 269.29L422.89 269.44L423.02 277.1L423.14 278.51L423.26 279.6L423.39 281.35L423.51 279.95L423.64 275.12L423.76 263.47L423.88 262.35L424.01 261.65L424.13 262.35L424.26 263.47L424.38 268.86L424.5 274.56L424.63 277.22L424.75 277.51L424.88 278.1L425 277.61L425.12 275.31L425.25 267.95L425.37 267.25L425.5 265.08L425.62 264.08L425.74 266.97L425.87 268.55L425.99 274.37L426.12 277.28L426.24 279.67L426.36 276.39L426.49 279.01L426.61 273.69L426.74 270.84L426.86 267.66L426.98 266.71L427.11 266.1L427.23 265.09L427.36 267.71L427.48 274.19L427.6 277.11L427.73 277.58L427.85 274.65L427.98 275.28L428.1 275.26L428.22 267.81L428.35 265.9L428.47 263.08L428.6 263.42L428.72 267.69L428.84 267.9L428.97 271.89L429.09 277.12L429.22 279.3L429.34 279.42L429.46 277.93L429.59 272.34L429.71 262.66L429.83 261.65L429.96 261.01L430.08 261.65L430.21 262.66L430.33 270.03L430.45 272.84L430.58 279.56L430.7 279.28L430.83 280.28L430.95 274.73L431.07 272.22L431.2 271.37L431.32 266.31L431.45 268.94L431.57 268.09L431.69 268.84L431.82 271.23L431.94 277.24L432.07 279.78L432.19 280.25L432.31 282.55L432.44 281.94L432.56 279L432.69 270.77L432.81 271.28L432.93 268.83L433.06 269.78L433.18 270.52L433.31 273.86L433.43 277L433.55 280.09L433.68 280L433.8 283.2L433.93 280.08L434.05 277.35L434.17 275.29L434.3 270.64L434.42 268.47L434.55 272.1L434.67 284.02L434.79 284.62L434.92 284.99L435.04 284.62L435.17 284.02L435.29 282.61L435.41 281.3L435.54 277.51L435.66 275.37L435.79 271.8L435.91 271.39L436.03 271.95L436.16 271.92L436.28 274.26L436.41 277.79L436.53 280.83L436.65 283.49L436.78 282.51L436.9 281.63L437.03 280.71L437.15 276.18L437.27 268.55L437.4 266.15L437.52 264.65L437.65 266.15L437.77 268.55L437.89 281.99L438.02 283.59L438.14 284.01L438.27 283.09L438.39 282.17L438.51 280.84L438.64 277.36L438.76 274.77L438.88 274.47L439.01 274.83L439.13 276.27L439.26 274.15L439.38 279.72L439.5 283.02L439.63 283.7L439.75 284.5L439.88 283.09L440 279.68L440.12 277.62L440.25 274.54L440.37 271.36L440.5 271.75L440.62 275.55L440.74 275.1L440.87 280.85L440.99 284.79L441.12 283.26L441.24 283.01L441.36 281.49L441.49 279.99L441.61 273.84L441.74 271.53L441.86 269.93L441.98 270.01L442.11 283.85L442.23 284.83L442.36 285.45L442.48 284.83L442.6 283.85L442.73 280.27L442.85 280.47L442.98 276.6L443.1 273.44L443.22 271.76L443.35 268.14L443.47 266.33L443.6 268.87L443.72 270.69L443.84 275.09L443.97 278.29L444.09 277.69L444.22 280.83L444.34 275.13L444.46 275.12L444.59 269.1L444.71 270.62L444.84 268.33L444.96 267.49L445.08 268.82L445.21 273.64L445.33 276.15L445.46 278.36L445.58 281.46L445.7 279.8L445.83 276.36L445.95 277.01L446.08 271.11L446.2 264.43L446.32 264.48L446.45 266.93L446.57 266.7L446.7 268.57L446.82 277.98L446.94 277.7L447.07 278.49L447.19 280.34L447.31 278.49L447.44 273.54L447.56 263.51L447.69 260.69L447.81 258.92L447.93 260.69L448.06 263.51L448.18 269.69L448.31 274.98L448.43 276.83L448.55 280.02L448.68 279.12L448.8 276.27L448.93 276.68L449.05 273.82L449.17 272.62L449.3 268.66L449.42 268.78L449.55 271.66L449.67 272.62L449.79 275.94L449.92 276.25L450.04 281.54L450.17 279.97L450.29 279.42L450.41 274.13L450.54 272.51L450.66 271.3L450.79 267.68L450.91 268.13L451.03 271.02L451.16 272.6L451.28 276.37L451.41 281.17L451.53 282.93L451.65 283.7L451.78 284.17L451.9 283.7L452.03 282.93L452.15 264.72L452.27 264.01L452.4 264.72L452.52 265.86L452.65 273.95L452.77 274.54L452.89 279.07L453.02 280.74L453.14 283.38L453.27 284.65L453.39 285.45L453.51 284.65L453.64 283.38L453.76 266.98L453.89 270.39L454.01 268.01L454.13 271.85L454.26 277.59L454.38 276.79L454.51 279.56L454.63 281.19L454.75 278.02L454.88 275.96L455 273.01L455.13 268.74L455.25 266.35L455.37 267.2L455.5 268.66L455.62 270.69L455.74 275.42L455.87 277.99L455.99 280.58L456.12 278.68L456.24 277.64L456.36 274.67L456.49 262.92L456.61 261.24L456.74 260.19L456.86 261.24L456.98 262.92L457.11 270.07L457.23 273.21L457.36 278.84L457.48 277.82L457.6 279.72L457.73 275.67L457.85 272.12L457.98 268.02L458.1 261.89L458.22 261.45L458.35 261.26L458.47 265.89L458.6 268.94L458.72 273.36L458.84 275.39L458.97 277.26L459.09 280.18L459.22 274.29L459.34 271.96L459.46 272.68L459.59 266.32L459.71 263.8L459.84 264.42L459.96 280.75L460.08 281.68L460.21 282.26L460.33 281.68L460.46 280.75L460.58 276.47L460.7 277.03L460.83 273.75L460.95 271.83L461.08 265.63L461.2 261.89L461.32 259.55L461.45 261.89L461.57 265.63L461.7 275.54L461.82 279.14L461.94 277.81L462.07 278.98L462.19 277.61L462.32 276.25L462.44 275.95L462.56 274L462.69 272.61L462.81 273.81L462.94 274.07L463.06 274.98L463.18 276.21L463.31 278.57L463.43 278.25L463.56 278.49L463.68 277.92L463.8 276.39L463.93 274.92L464.05 274.4L464.18 272.53L464.3 272.93L464.42 272.89L464.55 274.56L464.67 274.71L464.79 276.36L464.92 277.34L465.04 278.02L465.17 276.15L465.29 268.25L465.41 267.21L465.54 266.55L465.66 267.21L465.79 268.25L465.91 269.49L466.03 271.34L466.16 273.7L466.28 276.41L466.41 275.62L466.53 275.82L466.65 277.12L466.78 273.67L466.9 272.14L467.03 268.58L467.15 266.45L467.27 266.17L467.4 266.11L467.52 270.03L467.65 272.73L467.77 275.3L467.89 277.63L468.02 278.14L468.14 275.36L468.27 262.48L468.39 261.07L468.51 260.19L468.64 261.07L468.76 262.48L468.89 267.21L469.01 271.75L469.13 273.5L469.26 280.39L469.38 281.15L469.51 281.63L469.63 281.15L469.75 280.39L469.88 272.69L470 266.82L470.13 263.72L470.25 262.81L470.37 265.38L470.5 267.96L470.62 272.24L470.75 278.46L470.87 276.87L470.99 279L471.12 278.44L471.24 272.2L471.37 268.87L471.49 265.92L471.61 264.39L471.74 265.87L471.86 267.03L471.99 271.07L472.11 276.34L472.23 274.88L472.36 276.74L472.48 277.42L472.61 277.03L472.73 273.74L472.85 267.3L472.98 268.31L473.1 264.42L473.22 265.26L473.35 266.68L473.47 270.9L473.6 273.83L473.72 278.07L473.84 280.92L473.97 278.24L474.09 279.38L474.22 274.05L474.34 267.32L474.46 264.13L474.59 265.18L474.71 263.43L474.84 264.79L474.96 273.47L475.08 271.61L475.21 276.24L475.33 279.32L475.46 278.99L475.58 280.92L475.7 272.82L475.83 267.28L475.95 266.56L476.08 262.14L476.2 263.04L476.32 268.76L476.45 269.24L476.57 277.35L476.7 281.23L476.82 279.03L476.94 278.95L477.07 277.69L477.19 273.95L477.32 272.2L477.44 265.09L477.56 261.29L477.69 259.44L477.81 258.28L477.94 259.44L478.06 261.29L478.18 274.55L478.31 279.2L478.43 280.38L478.56 275.21L478.68 274.34L478.8 271.22L478.93 266.83L479.05 263.86L479.18 262.71L479.3 263.63L479.42 271.71L479.55 271.95L479.67 277.8L479.8 279.3L479.92 282.47L480.04 273.39L480.17 271.9L480.29 269.11L480.42 264.94L480.54 260.48L480.66 262.57L480.79 270.85L480.91 268.55L481.04 273.35L481.16 277.9L481.28 280.41L481.41 278.78L481.53 279.22L481.65 269.45L481.78 260.3L481.9 259.06L482.03 258.28L482.15 259.06L482.27 283.07L482.4 283.75L482.52 284.17L482.65 283.75L482.77 283.07L482.89 282.1L483.02 279.17L483.14 273.46L483.27 265.54L483.39 260.65L483.51 258.8L483.64 257.65L483.76 258.8L483.89 260.65L484.01 273.69L484.13 278.6L484.26 280.85L484.38 282.05L484.51 278.88L484.63 273.23L484.75 268.2L484.88 268.34L485 268.95L485.13 268.75L485.25 269.77L485.37 268.95L485.5 277.76L485.62 277.85L485.75 281.58L485.87 279.68L485.99 277.99L486.12 273.32L486.24 269.71L486.37 266.93L486.49 265.53L486.61 265.69L486.74 264.26L486.86 271.04L486.99 276.51L487.11 279.97L487.23 280.58L487.36 281.84L487.48 280.88L487.61 272.52L487.73 270.49L487.85 264.89L487.98 261.82L488.1 262.41L488.23 264.83L488.35 273.51L488.47 273.47L488.6 275.92L488.72 277.6L488.85 276.78L488.97 271.06L489.09 269.13L489.22 267.22L489.34 262.67L489.47 264.2L489.59 263.54L489.71 264.34L489.84 266.59L489.96 269.84L490.08 272.99L490.21 278.36L490.33 275.7L490.46 276.4L490.58 270.33L490.7 268.8L490.83 262.38L490.95 263.58L491.08 260.65L491.2 267.29L491.32 264.2L491.45 270.86L491.57 271.78L491.7 273.36L491.82 276.23L491.94 273.05L492.07 270.55L492.19 266.63L492.32 258.6L492.44 257.23L492.56 256.37L492.69 257.23L492.81 258.6L492.94 271.21L493.06 272.47L493.18 273.33L493.31 274.31L493.43 273.72L493.56 270.92L493.68 266.25L493.8 260.04L493.93 258.65L494.05 257.25L494.18 256.37L494.3 257.25L494.42 258.65L494.55 273.04L494.67 272.85L494.8 274.81L494.92 273.44L495.04 270.39L495.17 263.61L495.29 261.2L495.42 262.13L495.54 262.39L495.66 263.57L495.79 265.55L495.91 270.95L496.04 271.35L496.16 274.98L496.28 275.86L496.41 274.62L496.53 270.25L496.66 263.36L496.78 261.91L496.9 262.33L497.03 264.2L497.15 264.44L497.28 266.92L497.4 270.85L497.52 276.44L497.65 277.28L497.77 277.81L497.9 277.28L498.02 276.44L498.14 268.33L498.27 263.85L498.39 259.58L498.52 260.79L498.64 264.48L498.76 265.66L498.89 269.8L499.01 271.35L499.13 271.39L499.26 273.72L499.38 273.19L499.51 266.07L499.63 266.51L499.75 261.26L499.88 259.9L500 261.1L500.13 261.54L500.25 264.85L500.37 268.15L500.5 271.31L500.62 275.2L500.75 272.71L500.87 273.14L500.99 266.89L501.12 262.43L501.24 262.29L501.37 257.6L501.49 260.12L501.61 261.08L501.74 265.32L501.86 268.3L501.99 269.29L502.11 271.5L502.23 269.16L502.36 270.29L502.48 266.53L502.61 265.59L502.73 262.78L502.85 260.07L502.98 260.05L503.1 262.6L503.23 264.42L503.35 266.86L503.47 270.31L503.6 270.58L503.72 271.51L503.85 270.83L503.97 268.16" fill="none" stroke="#1f77b4" stroke-width="1.0" stroke-linejoin="round"/>
<polygon points="498.9,267.45 500.38,267.13 501.87,266.8 503.36,266.47 504.85,266.14 506.33,265.79 507.82,265.45 509.31,265.1 510.8,264.76 512.28,264.4 513.77,264.05 515.26,263.7 516.75,263.34 518.23,262.99 519.72,262.63 521.21,262.28 522.7,261.93 524.19,261.58 525.67,261.23 527.16,260.89 528.65,260.54 530.14,260.21 531.62,259.87 533.11,259.54 534.6,259.22 536.09,258.9 537.57,258.58 539.06,258.28 540.55,257.97 542.04,257.68 543.52,257.4 543.52,245.03 542.04,245.98 540.55,246.91 539.06,247.83 537.57,248.74 536.09,249.64 534.6,250.53 533.11,251.4 531.62,252.26 530.14,253.11 528.65,253.95 527.16,254.77 525.67,255.57 524.19,256.36 522.7,257.14 521.21,257.89 519.72,258.64 518.23,259.36 516.75,260.07 515.26,260.76 513.77,261.43 512.28,262.09 510.8,262.72 509.31,263.34 507.82,263.94 506.33,264.51 504.85,265.07 503.36,265.6 501.87,266.12 500.38,266.61 498.9,267.08" fill="#2e8b2e" fill-opacity="0.2"/>
<polygon points="498.9,267.5 500.38,267.2 501.87,266.89 503.36,266.58 504.85,266.27 506.33,265.96 507.82,265.64 509.31,265.32 510.8,265.01 512.28,264.69 513.77,264.38 515.26,264.06 516.75,263.75 518.23,263.44 519.72,263.13 521.21,262.83 522.7,262.53 524.19,262.23 525.67,261.94 527.16,261.65 528.65,261.37 530.14,261.09 531.62,260.82 533.11,260.56 534.6,260.3 536.09,260.05 537.57,259.81 539.06,259.58 540.55,259.36 542.04,259.14 543.52,258.94 543.52,248.12 542.04,248.9 540.55,249.68 539.06,250.44 537.57,251.2 536.09,251.95 534.6,252.7 533.11,253.44 531.62,254.17 530.14,254.88 528.65,255.6 527.16,256.3 525.67,256.99 524.19,257.67 522.7,258.33 521.21,258.99 519.72,259.64 518.23,260.27 516.75,260.89 515.26,261.5 513.77,262.09 512.28,262.67 510.8,263.23 509.31,263.78 507.82,264.32 506.33,264.83 504.85,265.34 503.36,265.82 501.87,266.29 500.38,266.74 498.9,267.17" fill="#2a6fb8" fill-opacity="0.32"/>
<polygon points="498.9,267.55 500.38,267.26 501.87,266.98 503.36,266.69 504.85,266.4 506.33,266.12 507.82,265.83 509.31,265.55 510.8,265.26 512.28,264.98 513.77,264.71 515.26,264.43 516.75,264.16 518.23,263.9 519.72,263.63 521.21,263.38 522.7,263.13 524.19,262.88 525.67,262.65 527.16,262.42 528.65,262.19 530.14,261.98 531.62,261.77 533.11,261.58 534.6,261.39 536.09,261.21 537.57,261.04 539.06,260.89 540.55,260.74 542.04,260.61 543.52,260.49 543.52,250.29 542.04,250.95 540.55,251.61 539.06,252.27 537.57,252.92 536.09,253.57 534.6,254.22 533.11,254.86 531.62,255.5 530.14,256.13 528.65,256.75 527.16,257.37 525.67,257.98 524.19,258.58 522.7,259.17 521.21,259.76 519.72,260.34 518.23,260.9 516.75,261.46 515.26,262.01 513.77,262.55 512.28,263.07 510.8,263.59 509.31,264.09 507.82,264.58 506.33,265.06 504.85,265.52 503.36,265.97 501.87,266.41 500.38,266.83 498.9,267.24" fill="#8a2be2" fill-opacity="0.2"/>
<line x1="315.62" y1="283.79" x2="543.52" y2="267.6" stroke="#000" stroke-width="1.2"/>
<line x1="458.73" y1="275.16" x2="543.52" y2="262.19" stroke="#a52a2a" stroke-width="1.1"/>
<line x1="473.6" y1="274.86" x2="543.52" y2="256.51" stroke="#f00" stroke-width="1.2"/>
<polyline points="498.9,267.31 500.38,266.98 501.87,266.63 503.36,266.28 504.85,265.92 506.33,265.54 507.82,265.16 509.31,264.77 510.8,264.36 512.28,263.95 513.77,263.52 515.26,263.08 516.75,262.64 518.23,262.18 519.72,261.71 521.21,261.22 522.7,260.73 524.19,260.23 525.67,259.71 527.16,259.18 528.65,258.64 530.14,258.08 531.62,257.52 533.11,256.94 534.6,256.35 536.09,255.74 537.57,255.13 539.06,254.5 540.55,253.85 542.04,253.19 543.52,252.52" fill="none" stroke="#008000" stroke-width="1.2" stroke-dasharray="4.1 1.5"/>
<polyline points="498.9,267.31 500.38,266.99 501.87,266.67 503.36,266.33 504.85,265.99 506.33,265.64 507.82,265.29 509.31,264.93 510.8,264.56 512.28,264.18 513.77,263.8 515.26,263.41 516.75,263.02 518.23,262.62 519.72,262.21 521.21,261.79 522.7,261.37 524.19,260.95 525.67,260.51 527.16,260.07 528.65,259.63 530.14,259.17 531.62,258.71 533.11,258.25 534.6,257.78 536.09,257.3 537.57,256.82 539.06,256.33 540.55,255.83 542.04,255.33 543.52,254.82" fill="none" stroke="#0000ff" stroke-width="1.2" stroke-dasharray="4.1 1.5"/>
<polyline points="498.9,267.31 500.38,267.01 501.87,266.7 503.36,266.39 504.85,266.08 506.33,265.76 507.82,265.44 509.31,265.12 510.8,264.79 512.28,264.46 513.77,264.14 515.26,263.8 516.75,263.47 518.23,263.14 519.72,262.8 521.21,262.47 522.7,262.13 524.19,261.8 525.67,261.46 527.16,261.13 528.65,260.79 530.14,260.46 531.62,260.12 533.11,259.79 534.6,259.46 536.09,259.14 537.57,258.81 539.06,258.49 540.55,258.17 542.04,257.85 543.52,257.54" fill="none" stroke="#9400d3" stroke-width="1.2" stroke-dasharray="4.1 1.5"/>
</g>
<text x="301" y="299" font-size="5.7" text-anchor="end" fill="#1a1a1a" stroke="#1a1a1a" stroke-width="0.08">−500</text>
<text x="301" y="275.3" font-size="5.7" text-anchor="end" fill="#1a1a1a" stroke="#1a1a1a" stroke-width="0.08">0</text>
<text x="301" y="251.6" font-size="5.7" text-anchor="end" fill="#1a1a1a" stroke="#1a1a1a" stroke-width="0.08">500</text>
<text x="301" y="227.9" font-size="5.7" text-anchor="end" fill="#1a1a1a" stroke="#1a1a1a" stroke-width="0.08">1000</text>
<text x="320.38" y="305" font-size="5.7" text-anchor="middle" fill="#1a1a1a" stroke="#1a1a1a" stroke-width="0.08">1900</text>
<text x="350.13" y="305" font-size="5.7" text-anchor="middle" fill="#1a1a1a" stroke="#1a1a1a" stroke-width="0.08">1920</text>
<text x="379.88" y="305" font-size="5.7" text-anchor="middle" fill="#1a1a1a" stroke="#1a1a1a" stroke-width="0.08">1940</text>
<text x="409.64" y="305" font-size="5.7" text-anchor="middle" fill="#1a1a1a" stroke="#1a1a1a" stroke-width="0.08">1960</text>
<text x="439.39" y="305" font-size="5.7" text-anchor="middle" fill="#1a1a1a" stroke="#1a1a1a" stroke-width="0.08">1980</text>
<text x="469.14" y="305" font-size="5.7" text-anchor="middle" fill="#1a1a1a" stroke="#1a1a1a" stroke-width="0.08">2000</text>
<text x="498.9" y="305" font-size="5.7" text-anchor="middle" fill="#1a1a1a" stroke="#1a1a1a" stroke-width="0.08">2020</text>
<text x="528.65" y="305" font-size="5.7" text-anchor="middle" fill="#1a1a1a" stroke="#1a1a1a" stroke-width="0.08">2040</text>
<path d="M305.5 216.5H546.5V296.7H305.5ZM303.1 296.7H305.5M303.1 273H305.5M303.1 249.3H305.5M303.1 225.6H305.5M320.38 296.7V299.1M350.13 296.7V299.1M379.88 296.7V299.1M409.64 296.7V299.1M439.39 296.7V299.1M469.14 296.7V299.1M498.9 296.7V299.1M528.65 296.7V299.1" stroke="#6a6a6a" stroke-width="1" fill="none"/>
<text x="426" y="212.9" font-size="9.25" text-anchor="middle" fill="#000" stroke="#000" stroke-width="0.06">Fernandina Beach</text>
<text x="308.2" y="226.12" font-size="7.56" fill="#000" stroke="#000" stroke-width="0.14" xml:space="preserve" style="white-space:pre">1897-2022:  2.23+-0.01 mm/yr</text>
<text x="443.87" y="226.12" font-size="7.56" fill="#000" stroke="#000" stroke-width="0.14" xml:space="preserve" style="white-space:pre">SL at 2050  114+- 1 mm</text>
<text x="308.2" y="235.75" font-size="7.56" fill="#a52a2a" stroke="#a52a2a" stroke-width="0.14" xml:space="preserve" style="white-space:pre">1993-2022:  4.80+-0.57 mm/yr</text>
<text x="443.87" y="235.75" font-size="7.56" fill="#a52a2a" stroke="#a52a2a" stroke-width="0.14" xml:space="preserve" style="white-space:pre">SL at 2050  228+-17 mm</text>
<text x="308.2" y="245.37" font-size="7.56" fill="#dc2024" stroke="#dc2024" stroke-width="0.14" xml:space="preserve" style="white-space:pre">2003-2022:  8.24+-1.83 mm/yr</text>
<text x="443.87" y="245.37" font-size="7.56" fill="#dc2024" stroke="#dc2024" stroke-width="0.14" xml:space="preserve" style="white-space:pre">SL at 2050  348+-55 mm</text>
<text x="426" y="315.7" font-size="9.4" text-anchor="middle" fill="#000" stroke="#000" stroke-width="0.06">time(years)</text>
</g>
<text transform="translate(13.1 156.2) rotate(-90)" font-size="9.35" text-anchor="middle" fill="#000" stroke="#000" stroke-width="0.06">Sea level w/r to mean SL in 2000 (mm)</text>
</svg>
</body></html>
